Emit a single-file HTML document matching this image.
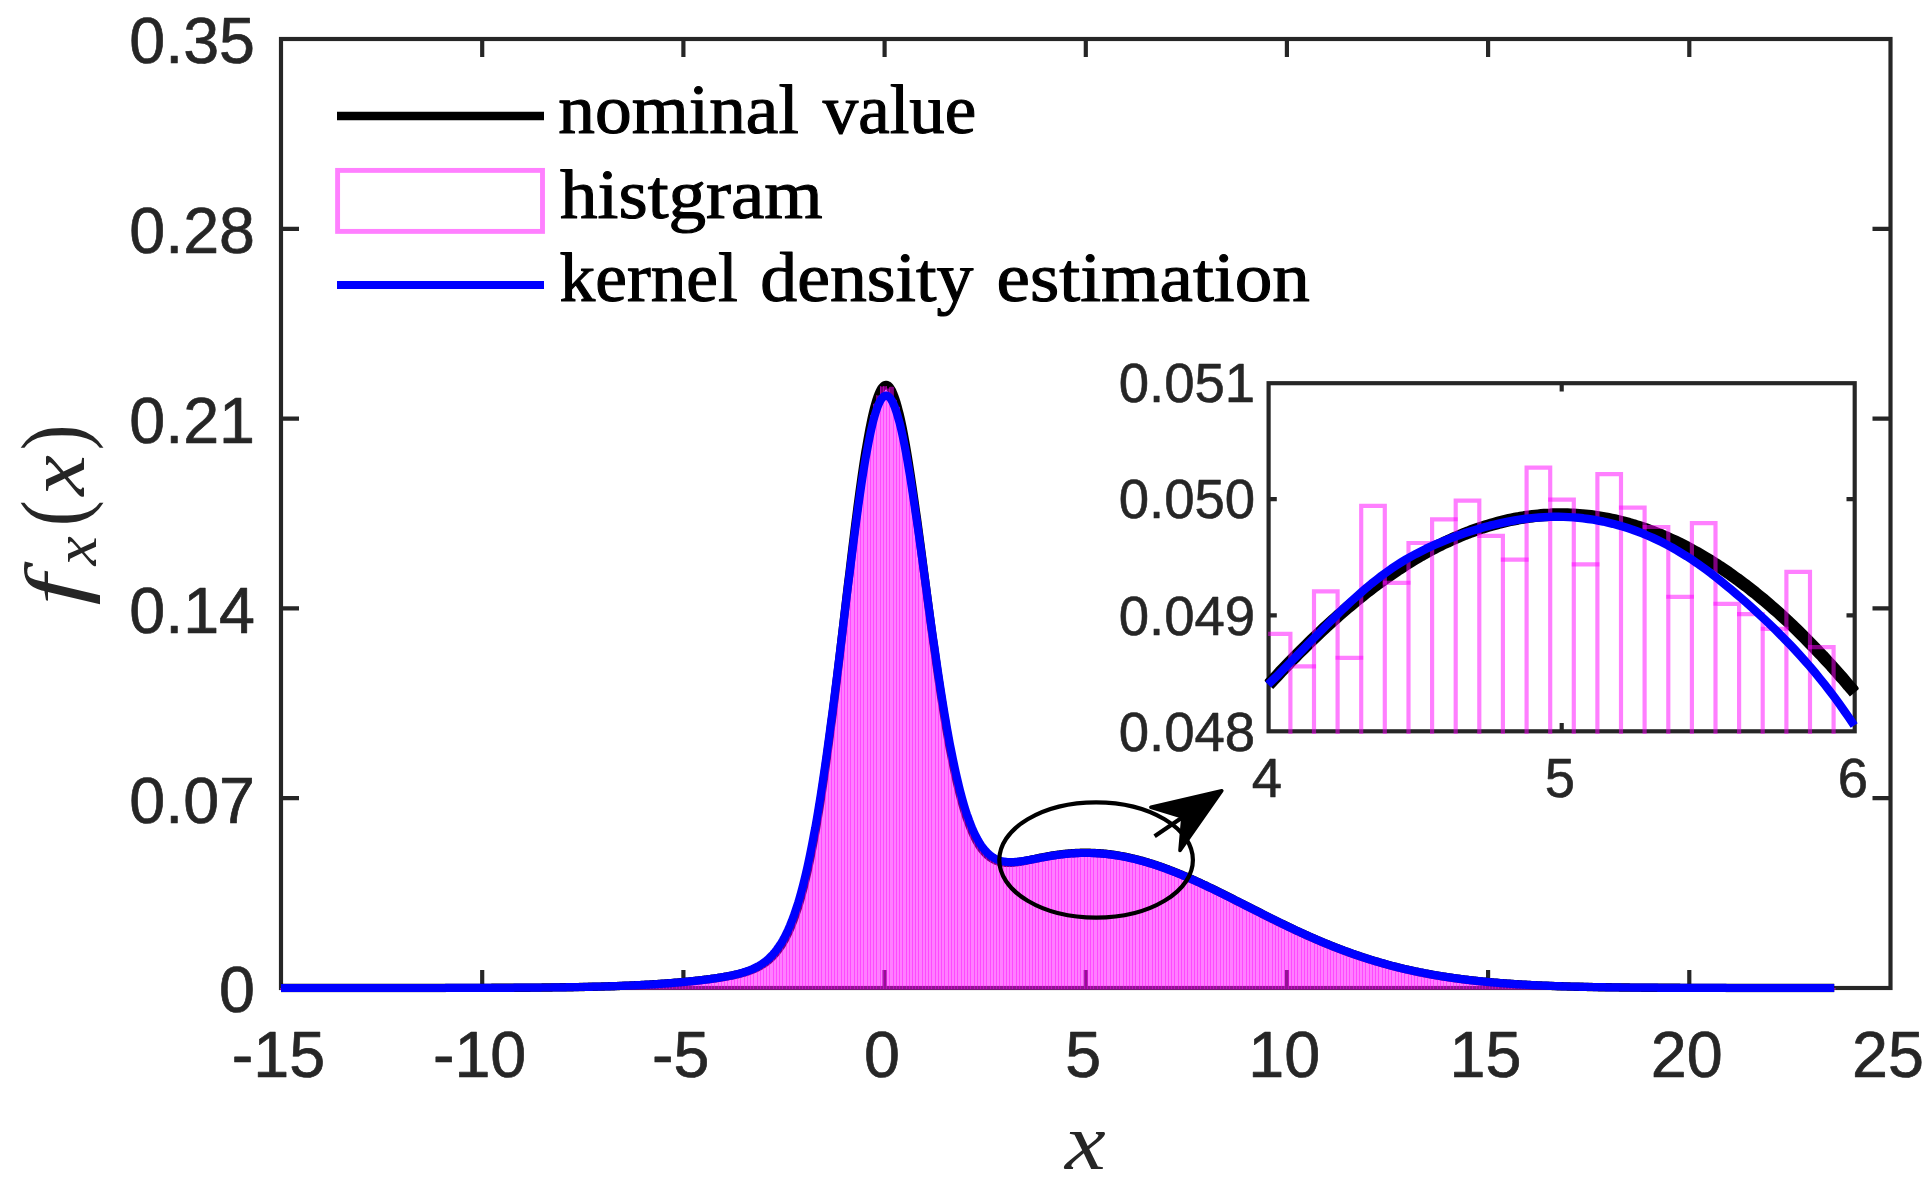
<!DOCTYPE html>
<html lang="en">
<head>
<meta charset="utf-8">
<title>Probability density: nominal value, histgram, kernel density estimation</title>
<style>
html,body{margin:0;padding:0;background:#fff;}
body{width:1932px;height:1186px;overflow:hidden;}
svg{display:block;}
</style>
</head>
<body>
<svg width="1932" height="1186" viewBox="0 0 1932 1186">
<defs>
<clipPath id="cm"><rect x="280.0" y="39.0" width="1610.5" height="953.5"/></clipPath>
<clipPath id="ci"><rect x="1264.6" y="383.2" width="594.1000000000001" height="349.59999999999997"/></clipPath>
<clipPath id="cih"><rect x="1268.1" y="383.2" width="587.1000000000001" height="350.9"/></clipPath>
</defs>
<rect width="1932" height="1186" fill="#fff"/>
<g stroke="#262626" stroke-width="4.17" fill="none" stroke-linecap="butt">
<rect x="281.0" y="39.0" width="1609.5" height="949.0"/>
<path d="M482.2,988.0 v-18.0 M482.2,39.0 v18.0 M683.4,988.0 v-18.0 M683.4,39.0 v18.0 M884.6,988.0 v-18.0 M884.6,39.0 v18.0 M1085.8,988.0 v-18.0 M1085.8,39.0 v18.0 M1286.9,988.0 v-18.0 M1286.9,39.0 v18.0 M1488.1,988.0 v-18.0 M1488.1,39.0 v18.0 M1689.3,988.0 v-18.0 M1689.3,39.0 v18.0 M281.0,798.2 h18.0 M1890.5,798.2 h-18.0 M281.0,608.4 h18.0 M1890.5,608.4 h-18.0 M281.0,418.6 h18.0 M1890.5,418.6 h-18.0 M281.0,228.8 h18.0 M1890.5,228.8 h-18.0"/>
</g>
<g font-family="'Liberation Sans', Arial, sans-serif" font-size="65.6" fill="#262626" stroke="#262626" stroke-width="0.7" stroke-linejoin="round">
<g text-anchor="middle">
<text x="278.4" y="1077" textLength="93.4" lengthAdjust="spacingAndGlyphs">-15</text>
<text x="479.6" y="1077" textLength="93.4" lengthAdjust="spacingAndGlyphs">-10</text>
<text x="680.8" y="1077" textLength="57.4" lengthAdjust="spacingAndGlyphs">-5</text>
<text x="882.0" y="1077" textLength="35.9" lengthAdjust="spacingAndGlyphs">0</text>
<text x="1083.2" y="1077" textLength="35.9" lengthAdjust="spacingAndGlyphs">5</text>
<text x="1284.3" y="1077" textLength="71.9" lengthAdjust="spacingAndGlyphs">10</text>
<text x="1485.5" y="1077" textLength="71.9" lengthAdjust="spacingAndGlyphs">15</text>
<text x="1686.7" y="1077" textLength="71.9" lengthAdjust="spacingAndGlyphs">20</text>
<text x="1887.9" y="1077" textLength="71.9" lengthAdjust="spacingAndGlyphs">25</text>
</g>
<g text-anchor="end">
<text x="255.0" y="1012.4" textLength="35.9" lengthAdjust="spacingAndGlyphs">0</text>
<text x="255.0" y="822.6" textLength="125.7" lengthAdjust="spacingAndGlyphs">0.07</text>
<text x="255.0" y="632.8" textLength="125.7" lengthAdjust="spacingAndGlyphs">0.14</text>
<text x="255.0" y="443.0" textLength="125.7" lengthAdjust="spacingAndGlyphs">0.21</text>
<text x="255.0" y="253.2" textLength="125.7" lengthAdjust="spacingAndGlyphs">0.28</text>
<text x="255.0" y="63.4" textLength="125.7" lengthAdjust="spacingAndGlyphs">0.35</text>
</g>
</g>
<g clip-path="url(#cm)" fill="none" stroke-linejoin="round">
<path d="M281.0,988.0 L282.0,988.0 L283.0,988.0 L284.0,988.0 L285.0,988.0 L286.0,988.0 L287.0,988.0 L288.0,988.0 L289.0,988.0 L290.1,988.0 L291.1,988.0 L292.1,988.0 L293.1,988.0 L294.1,988.0 L295.1,988.0 L296.1,988.0 L297.1,988.0 L298.1,988.0 L299.1,988.0 L300.1,988.0 L301.1,988.0 L302.1,988.0 L303.1,988.0 L304.1,988.0 L305.1,988.0 L306.1,988.0 L307.2,988.0 L308.2,988.0 L309.2,988.0 L310.2,988.0 L311.2,988.0 L312.2,988.0 L313.2,988.0 L314.2,988.0 L315.2,988.0 L316.2,988.0 L317.2,988.0 L318.2,988.0 L319.2,988.0 L320.2,988.0 L321.2,988.0 L322.2,988.0 L323.2,988.0 L324.3,988.0 L325.3,988.0 L326.3,988.0 L327.3,988.0 L328.3,988.0 L329.3,988.0 L330.3,988.0 L331.3,988.0 L332.3,988.0 L333.3,988.0 L334.3,988.0 L335.3,988.0 L336.3,988.0 L337.3,988.0 L338.3,988.0 L339.3,988.0 L340.4,988.0 L341.4,988.0 L342.4,988.0 L343.4,988.0 L344.4,988.0 L345.4,988.0 L346.4,988.0 L347.4,988.0 L348.4,988.0 L349.4,988.0 L350.4,988.0 L351.4,988.0 L352.4,988.0 L353.4,988.0 L354.4,988.0 L355.4,988.0 L356.4,988.0 L357.5,988.0 L358.5,988.0 L359.5,988.0 L360.5,988.0 L361.5,988.0 L362.5,988.0 L363.5,988.0 L364.5,988.0 L365.5,988.0 L366.5,988.0 L367.5,988.0 L368.5,988.0 L369.5,988.0 L370.5,988.0 L371.5,988.0 L372.5,988.0 L373.5,988.0 L374.6,988.0 L375.6,988.0 L376.6,988.0 L377.6,988.0 L378.6,988.0 L379.6,988.0 L380.6,988.0 L381.6,988.0 L382.6,988.0 L383.6,988.0 L384.6,988.0 L385.6,988.0 L386.6,988.0 L387.6,988.0 L388.6,988.0 L389.6,988.0 L390.6,988.0 L391.7,988.0 L392.7,988.0 L393.7,988.0 L394.7,988.0 L395.7,988.0 L396.7,988.0 L397.7,988.0 L398.7,988.0 L399.7,988.0 L400.7,988.0 L401.7,988.0 L402.7,988.0 L403.7,988.0 L404.7,988.0 L405.7,988.0 L406.7,988.0 L407.7,988.0 L408.8,988.0 L409.8,988.0 L410.8,988.0 L411.8,988.0 L412.8,988.0 L413.8,988.0 L414.8,988.0 L415.8,988.0 L416.8,988.0 L417.8,988.0 L418.8,988.0 L419.8,988.0 L420.8,988.0 L421.8,988.0 L422.8,988.0 L423.8,988.0 L424.8,988.0 L425.9,988.0 L426.9,988.0 L427.9,988.0 L428.9,988.0 L429.9,988.0 L430.9,988.0 L431.9,988.0 L432.9,988.0 L433.9,988.0 L434.9,988.0 L435.9,988.0 L436.9,988.0 L437.9,988.0 L438.9,988.0 L439.9,988.0 L440.9,988.0 L442.0,988.0 L443.0,988.0 L444.0,988.0 L445.0,988.0 L446.0,987.9 L447.0,987.9 L448.0,987.9 L449.0,987.9 L450.0,987.9 L451.0,987.9 L452.0,987.9 L453.0,987.9 L454.0,987.9 L455.0,987.9 L456.0,987.9 L457.0,987.9 L458.0,987.9 L459.1,987.9 L460.1,987.9 L461.1,987.9 L462.1,987.9 L463.1,987.9 L464.1,987.9 L465.1,987.9 L466.1,987.9 L467.1,987.9 L468.1,987.9 L469.1,987.9 L470.1,987.9 L471.1,987.9 L472.1,987.9 L473.1,987.9 L474.1,987.9 L475.1,987.9 L476.2,987.9 L477.2,987.9 L478.2,987.9 L479.2,987.9 L480.2,987.9 L481.2,987.9 L482.2,987.9 L483.2,987.9 L484.2,987.9 L485.2,987.9 L486.2,987.9 L487.2,987.9 L488.2,987.9 L489.2,987.9 L490.2,987.9 L491.2,987.9 L492.2,987.8 L493.3,987.8 L494.3,987.8 L495.3,987.8 L496.3,987.8 L497.3,987.8 L498.3,987.8 L499.3,987.8 L500.3,987.8 L501.3,987.8 L502.3,987.8 L503.3,987.8 L504.3,987.8 L505.3,987.8 L506.3,987.8 L507.3,987.8 L508.3,987.8 L509.3,987.8 L510.4,987.8 L511.4,987.8 L512.4,987.8 L513.4,987.8 L514.4,987.8 L515.4,987.7 L516.4,987.7 L517.4,987.7 L518.4,987.7 L519.4,987.7 L520.4,987.7 L521.4,987.7 L522.4,987.7 L523.4,987.7 L524.4,987.7 L525.4,987.7 L526.4,987.7 L527.5,987.7 L528.5,987.7 L529.5,987.7 L530.5,987.6 L531.5,987.6 L532.5,987.6 L533.5,987.6 L534.5,987.6 L535.5,987.6 L536.5,987.6 L537.5,987.6 L538.5,987.6 L539.5,987.6 L540.5,987.6 L541.5,987.6 L542.5,987.5 L543.5,987.5 L544.6,987.5 L545.6,987.5 L546.6,987.5 L547.6,987.5 L548.6,987.5 L549.6,987.5 L550.6,987.5 L551.6,987.5 L552.6,987.4 L553.6,987.4 L554.6,987.4 L555.6,987.4 L556.6,987.4 L557.6,987.4 L558.6,987.4 L559.6,987.4 L560.7,987.3 L561.7,987.3 L562.7,987.3 L563.7,987.3 L564.7,987.3 L565.7,987.3 L566.7,987.3 L567.7,987.2 L568.7,987.2 L569.7,987.2 L570.7,987.2 L571.7,987.2 L572.7,987.2 L573.7,987.1 L574.7,987.1 L575.7,987.1 L576.7,987.1 L577.8,987.1 L578.8,987.1 L579.8,987.0 L580.8,987.0 L581.8,987.0 L582.8,987.0 L583.8,987.0 L584.8,986.9 L585.8,986.9 L586.8,986.9 L587.8,986.9 L588.8,986.8 L589.8,986.8 L590.8,986.8 L591.8,986.8 L592.8,986.8 L593.8,986.7 L594.9,986.7 L595.9,986.7 L596.9,986.7 L597.9,986.6 L598.9,986.6 L599.9,986.6 L600.9,986.6 L601.9,986.5 L602.9,986.5 L603.9,986.5 L604.9,986.4 L605.9,986.4 L606.9,986.4 L607.9,986.4 L608.9,986.3 L609.9,986.3 L610.9,986.3 L612.0,986.2 L613.0,986.2 L614.0,986.2 L615.0,986.1 L616.0,986.1 L617.0,986.1 L618.0,986.0 L619.0,986.0 L620.0,985.9 L621.0,985.9 L622.0,985.9 L623.0,985.8 L624.0,985.8 L625.0,985.8 L626.0,985.7 L627.0,985.7 L628.0,985.6 L629.1,985.6 L630.1,985.5 L631.1,985.5 L632.1,985.5 L633.1,985.4 L634.1,985.4 L635.1,985.3 L636.1,985.3 L637.1,985.2 L638.1,985.2 L639.1,985.1 L640.1,985.1 L641.1,985.0 L642.1,985.0 L643.1,984.9 L644.1,984.9 L645.1,984.8 L646.2,984.8 L647.2,984.7 L648.2,984.6 L649.2,984.6 L650.2,984.5 L651.2,984.5 L652.2,984.4 L653.2,984.3 L654.2,984.3 L655.2,984.2 L656.2,984.2 L657.2,984.1 L658.2,984.0 L659.2,984.0 L660.2,983.9 L661.2,983.8 L662.3,983.8 L663.3,983.7 L664.3,983.6 L665.3,983.5 L666.3,983.5 L667.3,983.4 L668.3,983.3 L669.3,983.2 L670.3,983.2 L671.3,983.1 L672.3,983.0 L673.3,982.9 L674.3,982.8 L675.3,982.8 L676.3,982.7 L677.3,982.6 L678.3,982.5 L679.4,982.4 L680.4,982.3 L681.4,982.2 L682.4,982.1 L683.4,982.1 L684.4,982.0 L685.4,981.9 L686.4,981.8 L687.4,981.7 L688.4,981.6 L689.4,981.5 L690.4,981.4 L691.4,981.3 L692.4,981.2 L693.4,981.1 L694.4,981.0 L695.4,980.8 L696.5,980.7 L697.5,980.6 L698.5,980.5 L699.5,980.4 L700.5,980.3 L701.5,980.2 L702.5,980.0 L703.5,979.9 L704.5,979.8 L705.5,979.7 L706.5,979.5 L707.5,979.4 L708.5,979.3 L709.5,979.2 L710.5,979.0 L711.5,978.9 L712.5,978.7 L713.6,978.6 L714.6,978.5 L715.6,978.3 L716.6,978.2 L717.6,978.0 L718.6,977.9 L719.6,977.7 L720.6,977.6 L721.6,977.4 L722.6,977.2 L723.6,977.1 L724.6,976.9 L725.6,976.7 L726.6,976.5 L727.6,976.4 L728.6,976.2 L729.6,976.0 L730.7,975.8 L731.7,975.6 L732.7,975.4 L733.7,975.2 L734.7,974.9 L735.7,974.7 L736.7,974.5 L737.7,974.3 L738.7,974.0 L739.7,973.8 L740.7,973.5 L741.7,973.2 L742.7,973.0 L743.7,972.7 L744.7,972.4 L745.7,972.1 L746.7,971.8 L747.8,971.4 L748.8,971.1 L749.8,970.7 L750.8,970.3 L751.8,970.0 L752.8,969.6 L753.8,969.1 L754.8,968.7 L755.8,968.2 L756.8,967.7 L757.8,967.2 L758.8,966.7 L759.8,966.2 L760.8,965.6 L761.8,965.0 L762.8,964.4 L763.8,963.7 L764.9,963.0 L765.9,962.3 L766.9,961.5 L767.9,960.7 L768.9,959.9 L769.9,959.0 L770.9,958.0 L771.9,957.1 L772.9,956.0 L773.9,955.0 L774.9,953.9 L775.9,952.7 L776.9,951.4 L777.9,950.1 L778.9,948.8 L779.9,947.3 L781.0,945.9 L782.0,944.3 L783.0,942.6 L784.0,940.9 L785.0,939.1 L786.0,937.2 L787.0,935.3 L788.0,933.2 L789.0,931.1 L790.0,928.8 L791.0,926.5 L792.0,924.0 L793.0,921.5 L794.0,918.8 L795.0,916.0 L796.0,913.1 L797.0,910.1 L798.1,907.0 L799.1,903.8 L800.1,900.4 L801.1,896.9 L802.1,893.2 L803.1,889.5 L804.1,885.6 L805.1,881.5 L806.1,877.3 L807.1,873.0 L808.1,868.5 L809.1,863.9 L810.1,859.1 L811.1,854.2 L812.1,849.1 L813.1,843.9 L814.1,838.5 L815.2,832.9 L816.2,827.2 L817.2,821.4 L818.2,815.4 L819.2,809.3 L820.2,803.0 L821.2,796.5 L822.2,789.9 L823.2,783.2 L824.2,776.3 L825.2,769.3 L826.2,762.1 L827.2,754.8 L828.2,747.4 L829.2,739.9 L830.2,732.2 L831.2,724.4 L832.3,716.6 L833.3,708.6 L834.3,700.5 L835.3,692.3 L836.3,684.1 L837.3,675.7 L838.3,667.3 L839.3,658.9 L840.3,650.4 L841.3,641.8 L842.3,633.3 L843.3,624.7 L844.3,616.1 L845.3,607.4 L846.3,598.8 L847.3,590.3 L848.3,581.7 L849.4,573.2 L850.4,564.7 L851.4,556.3 L852.4,548.0 L853.4,539.8 L854.4,531.6 L855.4,523.6 L856.4,515.7 L857.4,507.9 L858.4,500.3 L859.4,492.8 L860.4,485.5 L861.4,478.4 L862.4,471.4 L863.4,464.7 L864.4,458.2 L865.4,451.9 L866.5,445.8 L867.5,440.0 L868.5,434.4 L869.5,429.1 L870.5,424.0 L871.5,419.2 L872.5,414.7 L873.5,410.5 L874.5,406.6 L875.5,403.1 L876.5,399.8 L877.5,396.8 L878.5,394.2 L879.5,391.9 L880.5,389.9 L881.5,388.2 L882.6,386.9 L883.6,385.9 L884.6,385.2 L885.6,384.9 L886.6,384.9 L887.6,385.3 L888.6,386.0 L889.6,387.0 L890.6,388.4 L891.6,390.0 L892.6,392.0 L893.6,394.4 L894.6,397.0 L895.6,399.9 L896.6,403.1 L897.6,406.7 L898.6,410.5 L899.7,414.6 L900.7,418.9 L901.7,423.6 L902.7,428.4 L903.7,433.5 L904.7,438.9 L905.7,444.5 L906.7,450.2 L907.7,456.2 L908.7,462.4 L909.7,468.8 L910.7,475.3 L911.7,482.0 L912.7,488.8 L913.7,495.8 L914.7,502.9 L915.7,510.0 L916.8,517.3 L917.8,524.7 L918.8,532.2 L919.8,539.7 L920.8,547.3 L921.8,554.9 L922.8,562.6 L923.8,570.3 L924.8,577.9 L925.8,585.6 L926.8,593.3 L927.8,601.0 L928.8,608.6 L929.8,616.2 L930.8,623.7 L931.8,631.2 L932.8,638.6 L933.9,646.0 L934.9,653.3 L935.9,660.4 L936.9,667.5 L937.9,674.5 L938.9,681.4 L939.9,688.2 L940.9,694.8 L941.9,701.4 L942.9,707.8 L943.9,714.1 L944.9,720.2 L945.9,726.2 L946.9,732.1 L947.9,737.8 L948.9,743.4 L949.9,748.8 L951.0,754.1 L952.0,759.3 L953.0,764.3 L954.0,769.1 L955.0,773.8 L956.0,778.4 L957.0,782.8 L958.0,787.0 L959.0,791.1 L960.0,795.1 L961.0,798.9 L962.0,802.6 L963.0,806.1 L964.0,809.5 L965.0,812.7 L966.0,815.9 L967.0,818.8 L968.1,821.7 L969.1,824.4 L970.1,827.0 L971.1,829.5 L972.1,831.8 L973.1,834.1 L974.1,836.2 L975.1,838.2 L976.1,840.1 L977.1,841.9 L978.1,843.6 L979.1,845.2 L980.1,846.8 L981.1,848.2 L982.1,849.5 L983.1,850.8 L984.2,851.9 L985.2,853.0 L986.2,854.0 L987.2,855.0 L988.2,855.8 L989.2,856.6 L990.2,857.4 L991.2,858.1 L992.2,858.7 L993.2,859.3 L994.2,859.8 L995.2,860.2 L996.2,860.7 L997.2,861.0 L998.2,861.4 L999.2,861.7 L1000.2,861.9 L1001.3,862.1 L1002.3,862.3 L1003.3,862.5 L1004.3,862.6 L1005.3,862.7 L1006.3,862.7 L1007.3,862.8 L1008.3,862.8 L1009.3,862.8 L1010.3,862.8 L1011.3,862.7 L1012.3,862.7 L1013.3,862.6 L1014.3,862.5 L1015.3,862.4 L1016.3,862.3 L1017.3,862.1 L1018.4,862.0 L1019.4,861.8 L1020.4,861.7 L1021.4,861.5 L1022.4,861.3 L1023.4,861.2 L1024.4,861.0 L1025.4,860.8 L1026.4,860.6 L1027.4,860.4 L1028.4,860.2 L1029.4,860.0 L1030.4,859.8 L1031.4,859.6 L1032.4,859.4 L1033.4,859.2 L1034.4,859.0 L1035.5,858.8 L1036.5,858.5 L1037.5,858.3 L1038.5,858.1 L1039.5,857.9 L1040.5,857.7 L1041.5,857.5 L1042.5,857.3 L1043.5,857.1 L1044.5,857.0 L1045.5,856.8 L1046.5,856.6 L1047.5,856.4 L1048.5,856.2 L1049.5,856.0 L1050.5,855.9 L1051.5,855.7 L1052.6,855.5 L1053.6,855.4 L1054.6,855.2 L1055.6,855.1 L1056.6,854.9 L1057.6,854.8 L1058.6,854.7 L1059.6,854.5 L1060.6,854.4 L1061.6,854.3 L1062.6,854.1 L1063.6,854.0 L1064.6,853.9 L1065.6,853.8 L1066.6,853.7 L1067.6,853.6 L1068.6,853.5 L1069.7,853.4 L1070.7,853.4 L1071.7,853.3 L1072.7,853.2 L1073.7,853.2 L1074.7,853.1 L1075.7,853.0 L1076.7,853.0 L1077.7,853.0 L1078.7,852.9 L1079.7,852.9 L1080.7,852.8 L1081.7,852.8 L1082.7,852.8 L1083.7,852.8 L1084.7,852.8 L1085.8,852.8 L1086.8,852.8 L1087.8,852.8 L1088.8,852.8 L1089.8,852.8 L1090.8,852.9 L1091.8,852.9 L1092.8,852.9 L1093.8,853.0 L1094.8,853.0 L1095.8,853.1 L1096.8,853.1 L1097.8,853.2 L1098.8,853.2 L1099.8,853.3 L1100.8,853.4 L1101.8,853.5 L1102.9,853.5 L1103.9,853.6 L1104.9,853.7 L1105.9,853.8 L1106.9,853.9 L1107.9,854.1 L1108.9,854.2 L1109.9,854.3 L1110.9,854.4 L1111.9,854.6 L1112.9,854.7 L1113.9,854.8 L1114.9,855.0 L1115.9,855.1 L1116.9,855.3 L1117.9,855.5 L1118.9,855.6 L1120.0,855.8 L1121.0,856.0 L1122.0,856.2 L1123.0,856.4 L1124.0,856.5 L1125.0,856.7 L1126.0,856.9 L1127.0,857.2 L1128.0,857.4 L1129.0,857.6 L1130.0,857.8 L1131.0,858.0 L1132.0,858.3 L1133.0,858.5 L1134.0,858.7 L1135.0,859.0 L1136.0,859.2 L1137.1,859.5 L1138.1,859.7 L1139.1,860.0 L1140.1,860.3 L1141.1,860.5 L1142.1,860.8 L1143.1,861.1 L1144.1,861.4 L1145.1,861.7 L1146.1,862.0 L1147.1,862.3 L1148.1,862.6 L1149.1,862.9 L1150.1,863.2 L1151.1,863.5 L1152.1,863.8 L1153.1,864.1 L1154.2,864.5 L1155.2,864.8 L1156.2,865.1 L1157.2,865.5 L1158.2,865.8 L1159.2,866.2 L1160.2,866.5 L1161.2,866.9 L1162.2,867.2 L1163.2,867.6 L1164.2,867.9 L1165.2,868.3 L1166.2,868.7 L1167.2,869.0 L1168.2,869.4 L1169.2,869.8 L1170.2,870.2 L1171.3,870.6 L1172.3,871.0 L1173.3,871.4 L1174.3,871.8 L1175.3,872.2 L1176.3,872.6 L1177.3,873.0 L1178.3,873.4 L1179.3,873.8 L1180.3,874.2 L1181.3,874.6 L1182.3,875.1 L1183.3,875.5 L1184.3,875.9 L1185.3,876.3 L1186.3,876.8 L1187.3,877.2 L1188.4,877.7 L1189.4,878.1 L1190.4,878.5 L1191.4,879.0 L1192.4,879.4 L1193.4,879.9 L1194.4,880.3 L1195.4,880.8 L1196.4,881.2 L1197.4,881.7 L1198.4,882.2 L1199.4,882.6 L1200.4,883.1 L1201.4,883.6 L1202.4,884.0 L1203.4,884.5 L1204.5,885.0 L1205.5,885.5 L1206.5,885.9 L1207.5,886.4 L1208.5,886.9 L1209.5,887.4 L1210.5,887.9 L1211.5,888.3 L1212.5,888.8 L1213.5,889.3 L1214.5,889.8 L1215.5,890.3 L1216.5,890.8 L1217.5,891.3 L1218.5,891.8 L1219.5,892.3 L1220.5,892.8 L1221.6,893.3 L1222.6,893.8 L1223.6,894.3 L1224.6,894.8 L1225.6,895.3 L1226.6,895.8 L1227.6,896.3 L1228.6,896.8 L1229.6,897.3 L1230.6,897.8 L1231.6,898.3 L1232.6,898.8 L1233.6,899.3 L1234.6,899.9 L1235.6,900.4 L1236.6,900.9 L1237.6,901.4 L1238.7,901.9 L1239.7,902.4 L1240.7,902.9 L1241.7,903.4 L1242.7,903.9 L1243.7,904.5 L1244.7,905.0 L1245.7,905.5 L1246.7,906.0 L1247.7,906.5 L1248.7,907.0 L1249.7,907.5 L1250.7,908.0 L1251.7,908.6 L1252.7,909.1 L1253.7,909.6 L1254.7,910.1 L1255.8,910.6 L1256.8,911.1 L1257.8,911.6 L1258.8,912.1 L1259.8,912.6 L1260.8,913.1 L1261.8,913.7 L1262.8,914.2 L1263.8,914.7 L1264.8,915.2 L1265.8,915.7 L1266.8,916.2 L1267.8,916.7 L1268.8,917.2 L1269.8,917.7 L1270.8,918.2 L1271.8,918.7 L1272.9,919.2 L1273.9,919.7 L1274.9,920.2 L1275.9,920.7 L1276.9,921.2 L1277.9,921.7 L1278.9,922.2 L1279.9,922.7 L1280.9,923.2 L1281.9,923.7 L1282.9,924.1 L1283.9,924.6 L1284.9,925.1 L1285.9,925.6 L1286.9,926.1 L1287.9,926.6 L1288.9,927.1 L1290.0,927.5 L1291.0,928.0 L1292.0,928.5 L1293.0,929.0 L1294.0,929.4 L1295.0,929.9 L1296.0,930.4 L1297.0,930.9 L1298.0,931.3 L1299.0,931.8 L1300.0,932.3 L1301.0,932.7 L1302.0,933.2 L1303.0,933.6 L1304.0,934.1 L1305.0,934.6 L1306.1,935.0 L1307.1,935.5 L1308.1,935.9 L1309.1,936.4 L1310.1,936.8 L1311.1,937.3 L1312.1,937.7 L1313.1,938.1 L1314.1,938.6 L1315.1,939.0 L1316.1,939.4 L1317.1,939.9 L1318.1,940.3 L1319.1,940.7 L1320.1,941.2 L1321.1,941.6 L1322.1,942.0 L1323.2,942.4 L1324.2,942.9 L1325.2,943.3 L1326.2,943.7 L1327.2,944.1 L1328.2,944.5 L1329.2,944.9 L1330.2,945.3 L1331.2,945.7 L1332.2,946.1 L1333.2,946.5 L1334.2,946.9 L1335.2,947.3 L1336.2,947.7 L1337.2,948.1 L1338.2,948.5 L1339.2,948.9 L1340.3,949.3 L1341.3,949.6 L1342.3,950.0 L1343.3,950.4 L1344.3,950.8 L1345.3,951.2 L1346.3,951.5 L1347.3,951.9 L1348.3,952.3 L1349.3,952.6 L1350.3,953.0 L1351.3,953.3 L1352.3,953.7 L1353.3,954.0 L1354.3,954.4 L1355.3,954.8 L1356.3,955.1 L1357.4,955.4 L1358.4,955.8 L1359.4,956.1 L1360.4,956.5 L1361.4,956.8 L1362.4,957.1 L1363.4,957.5 L1364.4,957.8 L1365.4,958.1 L1366.4,958.4 L1367.4,958.8 L1368.4,959.1 L1369.4,959.4 L1370.4,959.7 L1371.4,960.0 L1372.4,960.3 L1373.4,960.6 L1374.5,960.9 L1375.5,961.2 L1376.5,961.5 L1377.5,961.8 L1378.5,962.1 L1379.5,962.4 L1380.5,962.7 L1381.5,963.0 L1382.5,963.3 L1383.5,963.6 L1384.5,963.9 L1385.5,964.1 L1386.5,964.4 L1387.5,964.7 L1388.5,965.0 L1389.5,965.2 L1390.5,965.5 L1391.6,965.8 L1392.6,966.0 L1393.6,966.3 L1394.6,966.5 L1395.6,966.8 L1396.6,967.1 L1397.6,967.3 L1398.6,967.6 L1399.6,967.8 L1400.6,968.0 L1401.6,968.3 L1402.6,968.5 L1403.6,968.8 L1404.6,969.0 L1405.6,969.2 L1406.6,969.5 L1407.6,969.7 L1408.7,969.9 L1409.7,970.2 L1410.7,970.4 L1411.7,970.6 L1412.7,970.8 L1413.7,971.0 L1414.7,971.3 L1415.7,971.5 L1416.7,971.7 L1417.7,971.9 L1418.7,972.1 L1419.7,972.3 L1420.7,972.5 L1421.7,972.7 L1422.7,972.9 L1423.7,973.1 L1424.8,973.3 L1425.8,973.5 L1426.8,973.7 L1427.8,973.9 L1428.8,974.0 L1429.8,974.2 L1430.8,974.4 L1431.8,974.6 L1432.8,974.8 L1433.8,975.0 L1434.8,975.1 L1435.8,975.3 L1436.8,975.5 L1437.8,975.6 L1438.8,975.8 L1439.8,976.0 L1440.8,976.1 L1441.9,976.3 L1442.9,976.5 L1443.9,976.6 L1444.9,976.8 L1445.9,976.9 L1446.9,977.1 L1447.9,977.2 L1448.9,977.4 L1449.9,977.5 L1450.9,977.7 L1451.9,977.8 L1452.9,978.0 L1453.9,978.1 L1454.9,978.3 L1455.9,978.4 L1456.9,978.5 L1457.9,978.7 L1459.0,978.8 L1460.0,978.9 L1461.0,979.1 L1462.0,979.2 L1463.0,979.3 L1464.0,979.5 L1465.0,979.6 L1466.0,979.7 L1467.0,979.8 L1468.0,979.9 L1469.0,980.1 L1470.0,980.2 L1471.0,980.3 L1472.0,980.4 L1473.0,980.5 L1474.0,980.6 L1475.0,980.7 L1476.1,980.9 L1477.1,981.0 L1478.1,981.1 L1479.1,981.2 L1480.1,981.3 L1481.1,981.4 L1482.1,981.5 L1483.1,981.6 L1484.1,981.7 L1485.1,981.8 L1486.1,981.9 L1487.1,982.0 L1488.1,982.1 L1489.1,982.2 L1490.1,982.2 L1491.1,982.3 L1492.1,982.4 L1493.2,982.5 L1494.2,982.6 L1495.2,982.7 L1496.2,982.8 L1497.2,982.8 L1498.2,982.9 L1499.2,983.0 L1500.2,983.1 L1501.2,983.2 L1502.2,983.2 L1503.2,983.3 L1504.2,983.4 L1505.2,983.5 L1506.2,983.5 L1507.2,983.6 L1508.2,983.7 L1509.2,983.8 L1510.3,983.8 L1511.3,983.9 L1512.3,984.0 L1513.3,984.0 L1514.3,984.1 L1515.3,984.2 L1516.3,984.2 L1517.3,984.3 L1518.3,984.3 L1519.3,984.4 L1520.3,984.5 L1521.3,984.5 L1522.3,984.6 L1523.3,984.6 L1524.3,984.7 L1525.3,984.8 L1526.4,984.8 L1527.4,984.9 L1528.4,984.9 L1529.4,985.0 L1530.4,985.0 L1531.4,985.1 L1532.4,985.1 L1533.4,985.2 L1534.4,985.2 L1535.4,985.3 L1536.4,985.3 L1537.4,985.4 L1538.4,985.4 L1539.4,985.5 L1540.4,985.5 L1541.4,985.5 L1542.4,985.6 L1543.5,985.6 L1544.5,985.7 L1545.5,985.7 L1546.5,985.8 L1547.5,985.8 L1548.5,985.8 L1549.5,985.9 L1550.5,985.9 L1551.5,985.9 L1552.5,986.0 L1553.5,986.0 L1554.5,986.1 L1555.5,986.1 L1556.5,986.1 L1557.5,986.2 L1558.5,986.2 L1559.5,986.2 L1560.6,986.3 L1561.6,986.3 L1562.6,986.3 L1563.6,986.4 L1564.6,986.4 L1565.6,986.4 L1566.6,986.4 L1567.6,986.5 L1568.6,986.5 L1569.6,986.5 L1570.6,986.6 L1571.6,986.6 L1572.6,986.6 L1573.6,986.6 L1574.6,986.7 L1575.6,986.7 L1576.6,986.7 L1577.7,986.7 L1578.7,986.8 L1579.7,986.8 L1580.7,986.8 L1581.7,986.8 L1582.7,986.8 L1583.7,986.9 L1584.7,986.9 L1585.7,986.9 L1586.7,986.9 L1587.7,987.0 L1588.7,987.0 L1589.7,987.0 L1590.7,987.0 L1591.7,987.0 L1592.7,987.1 L1593.7,987.1 L1594.8,987.1 L1595.8,987.1 L1596.8,987.1 L1597.8,987.1 L1598.8,987.2 L1599.8,987.2 L1600.8,987.2 L1601.8,987.2 L1602.8,987.2 L1603.8,987.2 L1604.8,987.3 L1605.8,987.3 L1606.8,987.3 L1607.8,987.3 L1608.8,987.3 L1609.8,987.3 L1610.8,987.3 L1611.9,987.4 L1612.9,987.4 L1613.9,987.4 L1614.9,987.4 L1615.9,987.4 L1616.9,987.4 L1617.9,987.4 L1618.9,987.4 L1619.9,987.5 L1620.9,987.5 L1621.9,987.5 L1622.9,987.5 L1623.9,987.5 L1624.9,987.5 L1625.9,987.5 L1626.9,987.5 L1628.0,987.5 L1629.0,987.5 L1630.0,987.6 L1631.0,987.6 L1632.0,987.6 L1633.0,987.6 L1634.0,987.6 L1635.0,987.6 L1636.0,987.6 L1637.0,987.6 L1638.0,987.6 L1639.0,987.6 L1640.0,987.6 L1641.0,987.6 L1642.0,987.7 L1643.0,987.7 L1644.0,987.7 L1645.1,987.7 L1646.1,987.7 L1647.1,987.7 L1648.1,987.7 L1649.1,987.7 L1650.1,987.7 L1651.1,987.7 L1652.1,987.7 L1653.1,987.7 L1654.1,987.7 L1655.1,987.7 L1656.1,987.7 L1657.1,987.8 L1658.1,987.8 L1659.1,987.8 L1660.1,987.8 L1661.1,987.8 L1662.2,987.8 L1663.2,987.8 L1664.2,987.8 L1665.2,987.8 L1666.2,987.8 L1667.2,987.8 L1668.2,987.8 L1669.2,987.8 L1670.2,987.8 L1671.2,987.8 L1672.2,987.8 L1673.2,987.8 L1674.2,987.8 L1675.2,987.8 L1676.2,987.8 L1677.2,987.8 L1678.2,987.8 L1679.3,987.8 L1680.3,987.9 L1681.3,987.9 L1682.3,987.9 L1683.3,987.9 L1684.3,987.9 L1685.3,987.9 L1686.3,987.9 L1687.3,987.9 L1688.3,987.9 L1689.3,987.9 L1690.3,987.9 L1691.3,987.9 L1692.3,987.9 L1693.3,987.9 L1694.3,987.9 L1695.3,987.9 L1696.4,987.9 L1697.4,987.9 L1698.4,987.9 L1699.4,987.9 L1700.4,987.9 L1701.4,987.9 L1702.4,987.9 L1703.4,987.9 L1704.4,987.9 L1705.4,987.9 L1706.4,987.9 L1707.4,987.9 L1708.4,987.9 L1709.4,987.9 L1710.4,987.9 L1711.4,987.9 L1712.4,987.9 L1713.5,987.9 L1714.5,987.9 L1715.5,987.9 L1716.5,987.9 L1717.5,987.9 L1718.5,987.9 L1719.5,987.9 L1720.5,987.9 L1721.5,987.9 L1722.5,987.9 L1723.5,987.9 L1724.5,987.9 L1725.5,987.9 L1726.5,988.0 L1727.5,988.0 L1728.5,988.0 L1729.5,988.0 L1730.6,988.0 L1731.6,988.0 L1732.6,988.0 L1733.6,988.0 L1734.6,988.0 L1735.6,988.0 L1736.6,988.0 L1737.6,988.0 L1738.6,988.0 L1739.6,988.0 L1740.6,988.0 L1741.6,988.0 L1742.6,988.0 L1743.6,988.0 L1744.6,988.0 L1745.6,988.0 L1746.7,988.0 L1747.7,988.0 L1748.7,988.0 L1749.7,988.0 L1750.7,988.0 L1751.7,988.0 L1752.7,988.0 L1753.7,988.0 L1754.7,988.0 L1755.7,988.0 L1756.7,988.0 L1757.7,988.0 L1758.7,988.0 L1759.7,988.0 L1760.7,988.0 L1761.7,988.0 L1762.7,988.0 L1763.8,988.0 L1764.8,988.0 L1765.8,988.0 L1766.8,988.0 L1767.8,988.0 L1768.8,988.0 L1769.8,988.0 L1770.8,988.0 L1771.8,988.0 L1772.8,988.0 L1773.8,988.0 L1774.8,988.0 L1775.8,988.0 L1776.8,988.0 L1777.8,988.0 L1778.8,988.0 L1779.8,988.0 L1780.9,988.0 L1781.9,988.0 L1782.9,988.0 L1783.9,988.0 L1784.9,988.0 L1785.9,988.0 L1786.9,988.0 L1787.9,988.0 L1788.9,988.0 L1789.9,988.0 L1790.9,988.0 L1791.9,988.0 L1792.9,988.0 L1793.9,988.0 L1794.9,988.0 L1795.9,988.0 L1796.9,988.0 L1798.0,988.0 L1799.0,988.0 L1800.0,988.0 L1801.0,988.0 L1802.0,988.0 L1803.0,988.0 L1804.0,988.0 L1805.0,988.0 L1806.0,988.0 L1807.0,988.0 L1808.0,988.0 L1809.0,988.0 L1810.0,988.0 L1811.0,988.0 L1812.0,988.0 L1813.0,988.0 L1814.0,988.0 L1815.1,988.0 L1816.1,988.0 L1817.1,988.0 L1818.1,988.0 L1819.1,988.0 L1820.1,988.0 L1821.1,988.0 L1822.1,988.0 L1823.1,988.0 L1824.1,988.0 L1825.1,988.0 L1826.1,988.0 L1827.1,988.0 L1828.1,988.0 L1829.1,988.0 L1830.1,988.0 L1831.1,988.0 L1832.2,988.0 L1833.2,988.0 L1834.2,988.0" stroke="#000" stroke-width="8.4"/>
<path d="M258.19,989.7 L258.19,988.0 L261.42,988.0 L261.42,988.0 L264.66,988.0 L264.66,988.0 L267.90,988.0 L267.90,988.0 L271.14,988.0 L271.14,988.0 L274.38,988.0 L274.38,988.0 L277.62,988.0 L277.62,988.0 L280.86,988.0 L280.86,988.0 L284.10,988.0 L284.10,988.0 L287.34,988.0 L287.34,988.0 L290.58,988.0 L290.58,988.0 L293.82,988.0 L293.82,988.0 L297.05,988.0 L297.05,988.0 L300.29,988.0 L300.29,988.0 L303.53,988.0 L303.53,988.0 L306.77,988.0 L306.77,988.0 L310.01,988.0 L310.01,988.0 L313.25,988.0 L313.25,988.0 L316.49,988.0 L316.49,988.0 L319.73,988.0 L319.73,988.0 L322.97,988.0 L322.97,988.0 L326.21,988.0 L326.21,988.0 L329.45,988.0 L329.45,988.0 L332.69,988.0 L332.69,988.0 L335.92,988.0 L335.92,988.0 L339.16,988.0 L339.16,988.0 L342.40,988.0 L342.40,988.0 L345.64,988.0 L345.64,988.0 L348.88,988.0 L348.88,988.0 L352.12,988.0 L352.12,988.0 L355.36,988.0 L355.36,988.0 L358.60,988.0 L358.60,988.0 L361.84,988.0 L361.84,988.0 L365.08,988.0 L365.08,988.0 L368.32,988.0 L368.32,988.0 L371.55,988.0 L371.55,988.0 L374.79,988.0 L374.79,988.0 L378.03,988.0 L378.03,988.0 L381.27,988.0 L381.27,988.0 L384.51,988.0 L384.51,988.0 L387.75,988.0 L387.75,988.0 L390.99,988.0 L390.99,988.0 L394.23,988.0 L394.23,988.0 L397.47,988.0 L397.47,988.0 L400.71,988.0 L400.71,988.0 L403.95,988.0 L403.95,988.0 L407.18,988.0 L407.18,988.0 L410.42,988.0 L410.42,988.0 L413.66,988.0 L413.66,988.0 L416.90,988.0 L416.90,988.0 L420.14,988.0 L420.14,988.0 L423.38,988.0 L423.38,988.0 L426.62,988.0 L426.62,988.0 L429.86,988.0 L429.86,988.0 L433.10,988.0 L433.10,988.0 L436.34,988.0 L436.34,988.0 L439.58,988.0 L439.58,988.0 L442.82,988.0 L442.82,987.9 L446.05,987.9 L446.05,987.9 L449.29,987.9 L449.29,987.9 L452.53,987.9 L452.53,987.9 L455.77,987.9 L455.77,988.0 L459.01,988.0 L459.01,987.9 L462.25,987.9 L462.25,987.9 L465.49,987.9 L465.49,987.9 L468.73,987.9 L468.73,987.9 L471.97,987.9 L471.97,987.9 L475.21,987.9 L475.21,987.9 L478.45,987.9 L478.45,987.9 L481.68,987.9 L481.68,987.9 L484.92,987.9 L484.92,987.8 L488.16,987.8 L488.16,987.9 L491.40,987.9 L491.40,987.8 L494.64,987.8 L494.64,987.8 L497.88,987.8 L497.88,987.8 L501.12,987.8 L501.12,987.8 L504.36,987.8 L504.36,987.8 L507.60,987.8 L507.60,987.8 L510.84,987.8 L510.84,987.8 L514.08,987.8 L514.08,987.8 L517.31,987.8 L517.31,987.7 L520.55,987.7 L520.55,987.7 L523.79,987.7 L523.79,987.7 L527.03,987.7 L527.03,987.7 L530.27,987.7 L530.27,987.6 L533.51,987.6 L533.51,987.6 L536.75,987.6 L536.75,987.6 L539.99,987.6 L539.99,987.5 L543.23,987.5 L543.23,987.5 L546.47,987.5 L546.47,987.5 L549.71,987.5 L549.71,987.4 L552.95,987.4 L552.95,987.4 L556.18,987.4 L556.18,987.4 L559.42,987.4 L559.42,987.3 L562.66,987.3 L562.66,987.3 L565.90,987.3 L565.90,987.2 L569.14,987.2 L569.14,987.1 L572.38,987.1 L572.38,987.1 L575.62,987.1 L575.62,987.1 L578.86,987.1 L578.86,987.0 L582.10,987.0 L582.10,987.0 L585.34,987.0 L585.34,986.9 L588.58,986.9 L588.58,986.8 L591.81,986.8 L591.81,986.8 L595.05,986.8 L595.05,986.6 L598.29,986.6 L598.29,986.6 L601.53,986.6 L601.53,986.4 L604.77,986.4 L604.77,986.4 L608.01,986.4 L608.01,986.2 L611.25,986.2 L611.25,986.2 L614.49,986.2 L614.49,986.1 L617.73,986.1 L617.73,985.9 L620.97,985.9 L620.97,985.8 L624.21,985.8 L624.21,985.7 L627.44,985.7 L627.44,985.7 L630.68,985.7 L630.68,985.4 L633.92,985.4 L633.92,985.3 L637.16,985.3 L637.16,985.2 L640.40,985.2 L640.40,985.0 L643.64,985.0 L643.64,984.6 L646.88,984.6 L646.88,984.7 L650.12,984.7 L650.12,984.5 L653.36,984.5 L653.36,984.2 L656.60,984.2 L656.60,984.0 L659.84,984.0 L659.84,983.8 L663.08,983.8 L663.08,983.5 L666.31,983.5 L666.31,983.3 L669.55,983.3 L669.55,983.1 L672.79,983.1 L672.79,982.7 L676.03,982.7 L676.03,982.5 L679.27,982.5 L679.27,982.4 L682.51,982.4 L682.51,982.0 L685.75,982.0 L685.75,981.8 L688.99,981.8 L688.99,981.3 L692.23,981.3 L692.23,981.2 L695.47,981.2 L695.47,981.0 L698.71,981.0 L698.71,980.3 L701.94,980.3 L701.94,980.1 L705.18,980.1 L705.18,979.8 L708.42,979.8 L708.42,979.0 L711.66,979.0 L711.66,978.8 L714.90,978.8 L714.90,978.1 L718.14,978.1 L718.14,977.8 L721.38,977.8 L721.38,977.4 L724.62,977.4 L724.62,976.9 L727.86,976.9 L727.86,976.1 L731.10,976.1 L731.10,975.4 L734.34,975.4 L734.34,974.8 L737.57,974.8 L737.57,974.0 L740.81,974.0 L740.81,973.4 L744.05,973.4 L744.05,972.1 L747.29,972.1 L747.29,971.5 L750.53,971.5 L750.53,969.9 L753.77,969.9 L753.77,968.2 L757.01,968.2 L757.01,966.5 L760.25,966.5 L760.25,964.5 L763.49,964.5 L763.49,963.3 L766.73,963.3 L766.73,960.1 L769.97,960.1 L769.97,957.0 L773.21,957.0 L773.21,953.6 L776.44,953.6 L776.44,950.3 L779.68,950.3 L779.68,945.2 L782.92,945.2 L782.92,939.2 L786.16,939.2 L786.16,934.3 L789.40,934.3 L789.40,926.2 L792.64,926.2 L792.64,917.6 L795.88,917.6 L795.88,909.1 L799.12,909.1 L799.12,897.7 L802.36,897.7 L802.36,886.6 L805.60,886.6 L805.60,873.0 L808.84,873.0 L808.84,858.0 L812.07,858.0 L812.07,840.8 L815.31,840.8 L815.31,822.8 L818.55,822.8 L818.55,802.3 L821.79,802.3 L821.79,782.5 L825.03,782.5 L825.03,759.1 L828.27,759.1 L828.27,734.0 L831.51,734.0 L831.51,709.1 L834.75,709.1 L834.75,684.7 L837.99,684.7 L837.99,655.6 L841.23,655.6 L841.23,629.2 L844.47,629.2 L844.47,600.6 L847.70,600.6 L847.70,573.1 L850.94,573.1 L850.94,544.9 L854.18,544.9 L854.18,520.2 L857.42,520.2 L857.42,497.9 L860.66,497.9 L860.66,474.3 L863.90,474.3 L863.90,450.4 L867.14,450.4 L867.14,433.2 L870.38,433.2 L870.38,415.3 L873.62,415.3 L873.62,403.6 L876.86,403.6 L876.86,395.4 L880.10,395.4 L880.10,386.4 L883.34,386.4 L883.34,386.2 L886.57,386.2 L886.57,388.6 L889.81,388.6 L889.81,386.8 L893.05,386.8 L893.05,399.8 L896.29,399.8 L896.29,406.8 L899.53,406.8 L899.53,419.9 L902.77,419.9 L902.77,437.1 L906.01,437.1 L906.01,458.1 L909.25,458.1 L909.25,474.9 L912.49,474.9 L912.49,500.2 L915.73,500.2 L915.73,523.4 L918.97,523.4 L918.97,546.3 L922.20,546.3 L922.20,569.6 L925.44,569.6 L925.44,594.9 L928.68,594.9 L928.68,618.8 L931.92,618.8 L931.92,644.2 L935.16,644.2 L935.16,667.1 L938.40,667.1 L938.40,690.2 L941.64,690.2 L941.64,710.3 L944.88,710.3 L944.88,729.0 L948.12,729.0 L948.12,748.0 L951.36,748.0 L951.36,763.9 L954.60,763.9 L954.60,779.9 L957.83,779.9 L957.83,793.4 L961.07,793.4 L961.07,804.9 L964.31,804.9 L964.31,815.7 L967.55,815.7 L967.55,824.3 L970.79,824.3 L970.79,832.5 L974.03,832.5 L974.03,838.0 L977.27,838.0 L977.27,845.0 L980.51,845.0 L980.51,849.7 L983.75,849.7 L983.75,853.9 L986.99,853.9 L986.99,856.2 L990.23,856.2 L990.23,858.0 L993.47,858.0 L993.47,860.7 L996.70,860.7 L996.70,861.4 L999.94,861.4 L999.94,861.7 L1003.18,861.7 L1003.18,862.7 L1006.42,862.7 L1006.42,863.1 L1009.66,863.1 L1009.66,862.1 L1012.90,862.1 L1012.90,862.4 L1016.14,862.4 L1016.14,861.8 L1019.38,861.8 L1019.38,860.8 L1022.62,860.8 L1022.62,860.3 L1025.86,860.3 L1025.86,860.6 L1029.10,860.6 L1029.10,860.1 L1032.33,860.1 L1032.33,858.9 L1035.57,858.9 L1035.57,858.5 L1038.81,858.5 L1038.81,859.0 L1042.05,859.0 L1042.05,856.3 L1045.29,856.3 L1045.29,856.5 L1048.53,856.5 L1048.53,855.4 L1051.77,855.4 L1051.77,856.2 L1055.01,856.2 L1055.01,854.1 L1058.25,854.1 L1058.25,854.9 L1061.49,854.9 L1061.49,854.2 L1064.73,854.2 L1064.73,854.7 L1067.97,854.7 L1067.97,853.6 L1071.20,853.6 L1071.20,853.4 L1074.44,853.4 L1074.44,853.2 L1077.68,853.2 L1077.68,852.6 L1080.92,852.6 L1080.92,852.8 L1084.16,852.8 L1084.16,852.1 L1087.40,852.1 L1087.40,853.1 L1090.64,853.1 L1090.64,853.6 L1093.88,853.6 L1093.88,853.0 L1097.12,853.0 L1097.12,852.8 L1100.36,852.8 L1100.36,852.6 L1103.60,852.6 L1103.60,853.2 L1106.83,853.2 L1106.83,855.3 L1110.07,855.3 L1110.07,854.3 L1113.31,854.3 L1113.31,854.0 L1116.55,854.0 L1116.55,855.5 L1119.79,855.5 L1119.79,856.4 L1123.03,856.4 L1123.03,856.5 L1126.27,856.5 L1126.27,857.7 L1129.51,857.7 L1129.51,857.6 L1132.75,857.6 L1132.75,858.8 L1135.99,858.8 L1135.99,858.7 L1139.23,858.7 L1139.23,860.2 L1142.46,860.2 L1142.46,861.9 L1145.70,861.9 L1145.70,861.9 L1148.94,861.9 L1148.94,862.7 L1152.18,862.7 L1152.18,864.7 L1155.42,864.7 L1155.42,865.7 L1158.66,865.7 L1158.66,868.0 L1161.90,868.0 L1161.90,867.1 L1165.14,867.1 L1165.14,869.2 L1168.38,869.2 L1168.38,871.4 L1171.62,871.4 L1171.62,872.5 L1174.86,872.5 L1174.86,872.8 L1178.10,872.8 L1178.10,873.5 L1181.33,873.5 L1181.33,875.4 L1184.57,875.4 L1184.57,876.4 L1187.81,876.4 L1187.81,878.8 L1191.05,878.8 L1191.05,880.4 L1194.29,880.4 L1194.29,880.5 L1197.53,880.5 L1197.53,882.2 L1200.77,882.2 L1200.77,884.0 L1204.01,884.0 L1204.01,884.8 L1207.25,884.8 L1207.25,887.6 L1210.49,887.6 L1210.49,888.9 L1213.73,888.9 L1213.73,889.6 L1216.96,889.6 L1216.96,890.8 L1220.20,890.8 L1220.20,893.4 L1223.44,893.4 L1223.44,894.1 L1226.68,894.1 L1226.68,897.0 L1229.92,897.0 L1229.92,898.1 L1233.16,898.1 L1233.16,900.0 L1236.40,900.0 L1236.40,902.4 L1239.64,902.4 L1239.64,903.1 L1242.88,903.1 L1242.88,904.4 L1246.12,904.4 L1246.12,906.6 L1249.36,906.6 L1249.36,908.2 L1252.59,908.2 L1252.59,909.1 L1255.83,909.1 L1255.83,912.1 L1259.07,912.1 L1259.07,913.9 L1262.31,913.9 L1262.31,915.1 L1265.55,915.1 L1265.55,917.0 L1268.79,917.0 L1268.79,917.3 L1272.03,917.3 L1272.03,919.4 L1275.27,919.4 L1275.27,921.6 L1278.51,921.6 L1278.51,923.1 L1281.75,923.1 L1281.75,923.0 L1284.99,923.0 L1284.99,926.2 L1288.23,926.2 L1288.23,927.8 L1291.46,927.8 L1291.46,928.9 L1294.70,928.9 L1294.70,930.3 L1297.94,930.3 L1297.94,932.0 L1301.18,932.0 L1301.18,933.9 L1304.42,933.9 L1304.42,935.5 L1307.66,935.5 L1307.66,936.2 L1310.90,936.2 L1310.90,937.9 L1314.14,937.9 L1314.14,940.0 L1317.38,940.0 L1317.38,940.2 L1320.62,940.2 L1320.62,941.8 L1323.86,941.8 L1323.86,943.5 L1327.09,943.5 L1327.09,944.8 L1330.33,944.8 L1330.33,945.9 L1333.57,945.9 L1333.57,947.6 L1336.81,947.6 L1336.81,949.1 L1340.05,949.1 L1340.05,949.7 L1343.29,949.7 L1343.29,951.5 L1346.53,951.5 L1346.53,952.1 L1349.77,952.1 L1349.77,953.9 L1353.01,953.9 L1353.01,954.5 L1356.25,954.5 L1356.25,955.7 L1359.49,955.7 L1359.49,956.1 L1362.72,956.1 L1362.72,958.1 L1365.96,958.1 L1365.96,959.3 L1369.20,959.3 L1369.20,960.0 L1372.44,960.0 L1372.44,961.2 L1375.68,961.2 L1375.68,962.0 L1378.92,962.0 L1378.92,962.6 L1382.16,962.6 L1382.16,963.4 L1385.40,963.4 L1385.40,964.1 L1388.64,964.1 L1388.64,965.6 L1391.88,965.6 L1391.88,965.6 L1395.12,965.6 L1395.12,966.6 L1398.36,966.6 L1398.36,967.9 L1401.59,967.9 L1401.59,969.3 L1404.83,969.3 L1404.83,969.4 L1408.07,969.4 L1408.07,970.1 L1411.31,970.1 L1411.31,971.4 L1414.55,971.4 L1414.55,971.5 L1417.79,971.5 L1417.79,972.3 L1421.03,972.3 L1421.03,973.1 L1424.27,973.1 L1424.27,973.4 L1427.51,973.4 L1427.51,973.9 L1430.75,973.9 L1430.75,974.8 L1433.99,974.8 L1433.99,975.2 L1437.22,975.2 L1437.22,975.9 L1440.46,975.9 L1440.46,976.5 L1443.70,976.5 L1443.70,976.8 L1446.94,976.8 L1446.94,977.2 L1450.18,977.2 L1450.18,977.9 L1453.42,977.9 L1453.42,978.7 L1456.66,978.7 L1456.66,978.6 L1459.90,978.6 L1459.90,979.4 L1463.14,979.4 L1463.14,979.5 L1466.38,979.5 L1466.38,979.6 L1469.62,979.6 L1469.62,980.3 L1472.85,980.3 L1472.85,980.9 L1476.09,980.9 L1476.09,981.3 L1479.33,981.3 L1479.33,981.2 L1482.57,981.2 L1482.57,981.7 L1485.81,981.7 L1485.81,981.9 L1489.05,981.9 L1489.05,982.2 L1492.29,982.2 L1492.29,982.6 L1495.53,982.6 L1495.53,982.9 L1498.77,982.9 L1498.77,983.2 L1502.01,983.2 L1502.01,983.7 L1505.25,983.7 L1505.25,983.8 L1508.49,983.8 L1508.49,983.8 L1511.72,983.8 L1511.72,984.1 L1514.96,984.1 L1514.96,984.2 L1518.20,984.2 L1518.20,984.5 L1521.44,984.5 L1521.44,984.6 L1524.68,984.6 L1524.68,984.7 L1527.92,984.7 L1527.92,985.1 L1531.16,985.1 L1531.16,985.2 L1534.40,985.2 L1534.40,985.5 L1537.64,985.5 L1537.64,985.4 L1540.88,985.4 L1540.88,985.6 L1544.12,985.6 L1544.12,985.7 L1547.35,985.7 L1547.35,985.7 L1550.59,985.7 L1550.59,985.9 L1553.83,985.9 L1553.83,986.1 L1557.07,986.1 L1557.07,986.1 L1560.31,986.1 L1560.31,986.4 L1563.55,986.4 L1563.55,986.4 L1566.79,986.4 L1566.79,986.5 L1570.03,986.5 L1570.03,986.7 L1573.27,986.7 L1573.27,986.6 L1576.51,986.6 L1576.51,986.8 L1579.75,986.8 L1579.75,986.8 L1582.98,986.8 L1582.98,986.9 L1586.22,986.9 L1586.22,986.9 L1589.46,986.9 L1589.46,986.9 L1592.70,986.9 L1592.70,987.1 L1595.94,987.1 L1595.94,987.2 L1599.18,987.2 L1599.18,987.2 L1602.42,987.2 L1602.42,987.2 L1605.66,987.2 L1605.66,987.3 L1608.90,987.3 L1608.90,987.4 L1612.14,987.4 L1612.14,987.4 L1615.38,987.4 L1615.38,987.5 L1618.62,987.5 L1618.62,987.5 L1621.85,987.5 L1621.85,987.5 L1625.09,987.5 L1625.09,987.5 L1628.33,987.5 L1628.33,987.6 L1631.57,987.6 L1631.57,987.6 L1634.81,987.6 L1634.81,987.6 L1638.05,987.6 L1638.05,987.7 L1641.29,987.7 L1641.29,987.7 L1644.53,987.7 L1644.53,987.7 L1647.77,987.7 L1647.77,987.7 L1651.01,987.7 L1651.01,987.7 L1654.25,987.7 L1654.25,987.7 L1657.48,987.7 L1657.48,987.8 L1660.72,987.8 L1660.72,987.8 L1663.96,987.8 L1663.96,987.8 L1667.20,987.8 L1667.20,987.8 L1670.44,987.8 L1670.44,987.8 L1673.68,987.8 L1673.68,987.8 L1676.92,987.8 L1676.92,987.8 L1680.16,987.8 L1680.16,987.9 L1683.40,987.9 L1683.40,987.9 L1686.64,987.9 L1686.64,987.9 L1689.88,987.9 L1689.88,987.8 L1693.11,987.8 L1693.11,987.9 L1696.35,987.9 L1696.35,987.9 L1699.59,987.9 L1699.59,987.9 L1702.83,987.9 L1702.83,987.9 L1706.07,987.9 L1706.07,987.9 L1709.31,987.9 L1709.31,987.9 L1712.55,987.9 L1712.55,988.0 L1715.79,988.0 L1715.79,987.9 L1719.03,987.9 L1719.03,988.0 L1722.27,988.0 L1722.27,987.9 L1725.51,987.9 L1725.51,988.0 L1728.75,988.0 L1728.75,988.0 L1731.98,988.0 L1731.98,988.0 L1735.22,988.0 L1735.22,987.9 L1738.46,987.9 L1738.46,988.0 L1741.70,988.0 L1741.70,988.0 L1744.94,988.0 L1744.94,988.0 L1748.18,988.0 L1748.18,988.0 L1751.42,988.0 L1751.42,988.0 L1754.66,988.0 L1754.66,988.0 L1757.90,988.0 L1757.90,988.0 L1761.14,988.0 L1761.14,988.0 L1764.38,988.0 L1764.38,988.0 L1767.61,988.0 L1767.61,988.0 L1770.85,988.0 L1770.85,988.0 L1774.09,988.0 L1774.09,988.0 L1777.33,988.0 L1777.33,988.0 L1780.57,988.0 L1780.57,988.0 L1783.81,988.0 L1783.81,988.0 L1787.05,988.0 L1787.05,988.0 L1790.29,988.0 L1790.29,988.0 L1793.53,988.0 L1793.53,988.0 L1796.77,988.0 L1796.77,988.0 L1800.01,988.0 L1800.01,988.0 L1803.24,988.0 L1803.24,988.0 L1806.48,988.0 L1806.48,988.0 L1809.72,988.0 L1809.72,988.0 L1812.96,988.0 L1812.96,988.0 L1816.20,988.0 L1816.20,988.0 L1819.44,988.0 L1819.44,988.0 L1822.68,988.0 L1822.68,988.0 L1825.92,988.0 L1825.92,988.0 L1829.16,988.0 L1829.16,988.0 L1832.40,988.0 L1832.40,988.0 L1835.64,988.0 L1835.64,989.7 Z" fill="#f0f" fill-opacity="0.5" stroke="none"/>
<path d="M552.5,987.4V988.8 M556.5,987.4V988.8 M559.5,987.3V988.8 M562.5,987.3V988.8 M565.5,987.2V988.8 M569.5,987.1V988.8 M572.5,987.1V988.8 M575.5,987.1V988.8 M578.5,987.0V988.8 M582.5,987.0V988.8 M585.5,986.9V988.8 M588.5,986.8V988.8 M591.5,986.8V988.8 M595.5,986.6V988.8 M598.5,986.6V988.8 M601.5,986.4V988.8 M604.5,986.4V988.8 M608.5,986.2V988.8 M611.5,986.2V988.8 M614.5,986.1V988.8 M617.5,985.9V988.8 M620.5,985.8V988.8 M624.5,985.7V988.8 M627.5,985.7V988.8 M630.5,985.4V988.8 M633.5,985.3V988.8 M637.5,985.2V988.8 M640.5,985.0V988.8 M643.5,984.6V988.8 M646.5,984.6V988.8 M650.5,984.5V988.8 M653.5,984.2V988.8 M656.5,984.0V988.8 M659.5,983.8V988.8 M663.5,983.5V988.8 M666.5,983.3V988.8 M669.5,983.1V988.8 M672.5,982.7V988.8 M676.5,982.5V988.8 M679.5,982.4V988.8 M682.5,982.0V988.8 M685.5,981.8V988.8 M688.5,981.3V988.8 M692.5,981.2V988.8 M695.5,981.0V988.8 M698.5,980.3V988.8 M701.5,980.1V988.8 M705.5,979.8V988.8 M708.5,979.0V988.8 M711.5,978.8V988.8 M714.5,978.1V988.8 M718.5,977.8V988.8 M721.5,977.4V988.8 M724.5,976.9V988.8 M727.5,976.1V988.8 M731.5,975.4V988.8 M734.5,974.8V988.8 M737.5,974.0V988.8 M740.5,973.4V988.8 M744.5,972.1V988.8 M747.5,971.5V988.8 M750.5,969.9V988.8 M753.5,968.2V988.8 M757.5,966.5V988.8 M760.5,964.5V988.8 M763.5,963.3V988.8 M766.5,960.1V988.8 M769.5,957.0V988.8 M773.5,953.6V988.8 M776.5,950.3V988.8 M779.5,945.2V988.8 M782.5,939.2V988.8 M786.5,934.3V988.8 M789.5,926.2V988.8 M792.5,917.6V988.8 M795.5,909.1V988.8 M799.5,897.7V988.8 M802.5,886.6V988.8 M805.5,873.0V988.8 M808.5,858.0V988.8 M812.5,840.8V988.8 M815.5,822.8V988.8 M818.5,802.3V988.8 M821.5,782.5V988.8 M825.5,759.1V988.8 M828.5,734.0V988.8 M831.5,709.1V988.8 M834.5,684.7V988.8 M837.5,655.6V988.8 M841.5,629.2V988.8 M844.5,600.6V988.8 M847.5,573.1V988.8 M850.5,544.9V988.8 M854.5,520.2V988.8 M857.5,497.9V988.8 M860.5,474.3V988.8 M863.5,450.4V988.8 M867.5,433.2V988.8 M870.5,415.3V988.8 M873.5,403.6V988.8 M876.5,395.4V988.8 M880.5,386.4V988.8 M883.5,386.2V988.8 M886.5,386.2V988.8 M889.5,386.8V988.8 M893.5,386.8V988.8 M896.5,399.8V988.8 M899.5,406.8V988.8 M902.5,419.9V988.8 M906.5,437.1V988.8 M909.5,458.1V988.8 M912.5,474.9V988.8 M915.5,500.2V988.8 M918.5,523.4V988.8 M922.5,546.3V988.8 M925.5,569.6V988.8 M928.5,594.9V988.8 M931.5,618.8V988.8 M935.5,644.2V988.8 M938.5,667.1V988.8 M941.5,690.2V988.8 M944.5,710.3V988.8 M948.5,729.0V988.8 M951.5,748.0V988.8 M954.5,763.9V988.8 M957.5,779.9V988.8 M961.5,793.4V988.8 M964.5,804.9V988.8 M967.5,815.7V988.8 M970.5,824.3V988.8 M974.5,832.5V988.8 M977.5,838.0V988.8 M980.5,845.0V988.8 M983.5,849.7V988.8 M986.5,853.9V988.8 M990.5,856.2V988.8 M993.5,858.0V988.8 M996.5,860.7V988.8 M999.5,861.4V988.8 M1003.5,861.7V988.8 M1006.5,862.7V988.8 M1009.5,862.1V988.8 M1012.5,862.1V988.8 M1016.5,861.8V988.8 M1019.5,860.8V988.8 M1022.5,860.3V988.8 M1025.5,860.3V988.8 M1029.5,860.1V988.8 M1032.5,858.9V988.8 M1035.5,858.5V988.8 M1038.5,858.5V988.8 M1042.5,856.3V988.8 M1045.5,856.3V988.8 M1048.5,855.4V988.8 M1051.5,855.4V988.8 M1055.5,854.1V988.8 M1058.5,854.1V988.8 M1061.5,854.2V988.8 M1064.5,854.2V988.8 M1067.5,853.6V988.8 M1071.5,853.4V988.8 M1074.5,853.2V988.8 M1077.5,852.6V988.8 M1080.5,852.6V988.8 M1084.5,852.1V988.8 M1087.5,852.1V988.8 M1090.5,853.1V988.8 M1093.5,853.0V988.8 M1097.5,852.8V988.8 M1100.5,852.6V988.8 M1103.5,852.6V988.8 M1106.5,853.2V988.8 M1110.5,854.3V988.8 M1113.5,854.0V988.8 M1116.5,854.0V988.8 M1119.5,855.5V988.8 M1123.5,856.4V988.8 M1126.5,856.5V988.8 M1129.5,857.6V988.8 M1132.5,857.6V988.8 M1135.5,858.7V988.8 M1139.5,858.7V988.8 M1142.5,860.2V988.8 M1145.5,861.9V988.8 M1148.5,861.9V988.8 M1152.5,862.7V988.8 M1155.5,864.7V988.8 M1158.5,865.7V988.8 M1161.5,867.1V988.8 M1165.5,867.1V988.8 M1168.5,869.2V988.8 M1171.5,871.4V988.8 M1174.5,872.5V988.8 M1178.5,872.8V988.8 M1181.5,873.5V988.8 M1184.5,875.4V988.8 M1187.5,876.4V988.8 M1191.5,878.8V988.8 M1194.5,880.4V988.8 M1197.5,880.5V988.8 M1200.5,882.2V988.8 M1204.5,884.0V988.8 M1207.5,884.8V988.8 M1210.5,887.6V988.8 M1213.5,888.9V988.8 M1216.5,889.6V988.8 M1220.5,890.8V988.8 M1223.5,893.4V988.8 M1226.5,894.1V988.8 M1229.5,897.0V988.8 M1233.5,898.1V988.8 M1236.5,900.0V988.8 M1239.5,902.4V988.8 M1242.5,903.1V988.8 M1246.5,904.4V988.8 M1249.5,906.6V988.8 M1252.5,908.2V988.8 M1255.5,909.1V988.8 M1259.5,912.1V988.8 M1262.5,913.9V988.8 M1265.5,915.1V988.8 M1268.5,917.0V988.8 M1272.5,917.3V988.8 M1275.5,919.4V988.8 M1278.5,921.6V988.8 M1281.5,923.0V988.8 M1284.5,923.0V988.8 M1288.5,926.2V988.8 M1291.5,927.8V988.8 M1294.5,928.9V988.8 M1297.5,930.3V988.8 M1301.5,932.0V988.8 M1304.5,933.9V988.8 M1307.5,935.5V988.8 M1310.5,936.2V988.8 M1314.5,937.9V988.8 M1317.5,940.0V988.8 M1320.5,940.2V988.8 M1323.5,941.8V988.8 M1327.5,943.5V988.8 M1330.5,944.8V988.8 M1333.5,945.9V988.8 M1336.5,947.6V988.8 M1340.5,949.1V988.8 M1343.5,949.7V988.8 M1346.5,951.5V988.8 M1349.5,952.1V988.8 M1353.5,953.9V988.8 M1356.5,954.5V988.8 M1359.5,955.7V988.8 M1362.5,956.1V988.8 M1365.5,958.1V988.8 M1369.5,959.3V988.8 M1372.5,960.0V988.8 M1375.5,961.2V988.8 M1378.5,962.0V988.8 M1382.5,962.6V988.8 M1385.5,963.4V988.8 M1388.5,964.1V988.8 M1391.5,965.6V988.8 M1395.5,965.6V988.8 M1398.5,966.6V988.8 M1401.5,967.9V988.8 M1404.5,969.3V988.8 M1408.5,969.4V988.8 M1411.5,970.1V988.8 M1414.5,971.4V988.8 M1417.5,971.5V988.8 M1421.5,972.3V988.8 M1424.5,973.1V988.8 M1427.5,973.4V988.8 M1430.5,973.9V988.8 M1433.5,974.8V988.8 M1437.5,975.2V988.8 M1440.5,975.9V988.8 M1443.5,976.5V988.8 M1446.5,976.8V988.8 M1450.5,977.2V988.8 M1453.5,977.9V988.8 M1456.5,978.6V988.8 M1459.5,978.6V988.8 M1463.5,979.4V988.8 M1466.5,979.5V988.8 M1469.5,979.6V988.8 M1472.5,980.3V988.8 M1476.5,980.9V988.8 M1479.5,981.2V988.8 M1482.5,981.2V988.8 M1485.5,981.7V988.8 M1489.5,981.9V988.8 M1492.5,982.2V988.8 M1495.5,982.6V988.8 M1498.5,982.9V988.8 M1502.5,983.2V988.8 M1505.5,983.7V988.8 M1508.5,983.8V988.8 M1511.5,983.8V988.8 M1514.5,984.1V988.8 M1518.5,984.2V988.8 M1521.5,984.5V988.8 M1524.5,984.6V988.8 M1527.5,984.7V988.8 M1531.5,985.1V988.8 M1534.5,985.2V988.8 M1537.5,985.4V988.8 M1540.5,985.4V988.8 M1544.5,985.6V988.8 M1547.5,985.7V988.8 M1550.5,985.7V988.8 M1553.5,985.9V988.8 M1557.5,986.1V988.8 M1560.5,986.1V988.8 M1563.5,986.4V988.8 M1566.5,986.4V988.8 M1570.5,986.5V988.8 M1573.5,986.6V988.8 M1576.5,986.6V988.8 M1579.5,986.8V988.8 M1582.5,986.8V988.8 M1586.5,986.9V988.8 M1589.5,986.9V988.8 M1592.5,986.9V988.8 M1595.5,987.1V988.8 M1599.5,987.2V988.8 M1602.5,987.2V988.8 M1605.5,987.2V988.8 M1608.5,987.3V988.8 M1612.5,987.4V988.8 M1615.5,987.4V988.8" stroke="#f0f" stroke-opacity="0.42" stroke-width="1" shape-rendering="crispEdges"/>
<path d="M281.0,988.0 L282.0,988.0 L283.0,988.0 L284.0,988.0 L285.0,988.0 L286.0,988.0 L287.0,988.0 L288.0,988.0 L289.0,988.0 L290.1,988.0 L291.1,988.0 L292.1,988.0 L293.1,988.0 L294.1,988.0 L295.1,988.0 L296.1,988.0 L297.1,988.0 L298.1,988.0 L299.1,988.0 L300.1,988.0 L301.1,988.0 L302.1,988.0 L303.1,988.0 L304.1,988.0 L305.1,988.0 L306.1,988.0 L307.2,988.0 L308.2,988.0 L309.2,988.0 L310.2,988.0 L311.2,988.0 L312.2,988.0 L313.2,988.0 L314.2,988.0 L315.2,988.0 L316.2,988.0 L317.2,988.0 L318.2,988.0 L319.2,988.0 L320.2,988.0 L321.2,988.0 L322.2,988.0 L323.2,988.0 L324.3,988.0 L325.3,988.0 L326.3,988.0 L327.3,988.0 L328.3,988.0 L329.3,988.0 L330.3,988.0 L331.3,988.0 L332.3,988.0 L333.3,988.0 L334.3,988.0 L335.3,988.0 L336.3,988.0 L337.3,988.0 L338.3,988.0 L339.3,988.0 L340.4,988.0 L341.4,988.0 L342.4,988.0 L343.4,988.0 L344.4,988.0 L345.4,988.0 L346.4,988.0 L347.4,988.0 L348.4,988.0 L349.4,988.0 L350.4,988.0 L351.4,988.0 L352.4,988.0 L353.4,988.0 L354.4,988.0 L355.4,988.0 L356.4,988.0 L357.5,988.0 L358.5,988.0 L359.5,988.0 L360.5,988.0 L361.5,988.0 L362.5,988.0 L363.5,988.0 L364.5,988.0 L365.5,988.0 L366.5,988.0 L367.5,988.0 L368.5,988.0 L369.5,988.0 L370.5,988.0 L371.5,988.0 L372.5,988.0 L373.5,988.0 L374.6,988.0 L375.6,988.0 L376.6,988.0 L377.6,988.0 L378.6,988.0 L379.6,988.0 L380.6,988.0 L381.6,988.0 L382.6,988.0 L383.6,988.0 L384.6,988.0 L385.6,988.0 L386.6,988.0 L387.6,988.0 L388.6,988.0 L389.6,988.0 L390.6,988.0 L391.7,988.0 L392.7,988.0 L393.7,988.0 L394.7,988.0 L395.7,988.0 L396.7,988.0 L397.7,988.0 L398.7,988.0 L399.7,988.0 L400.7,988.0 L401.7,988.0 L402.7,988.0 L403.7,988.0 L404.7,988.0 L405.7,988.0 L406.7,988.0 L407.7,988.0 L408.8,988.0 L409.8,988.0 L410.8,988.0 L411.8,988.0 L412.8,988.0 L413.8,988.0 L414.8,988.0 L415.8,988.0 L416.8,988.0 L417.8,988.0 L418.8,988.0 L419.8,988.0 L420.8,988.0 L421.8,988.0 L422.8,988.0 L423.8,988.0 L424.8,988.0 L425.9,988.0 L426.9,988.0 L427.9,988.0 L428.9,988.0 L429.9,988.0 L430.9,988.0 L431.9,988.0 L432.9,988.0 L433.9,988.0 L434.9,988.0 L435.9,988.0 L436.9,988.0 L437.9,988.0 L438.9,988.0 L439.9,988.0 L440.9,988.0 L442.0,988.0 L443.0,988.0 L444.0,988.0 L445.0,988.0 L446.0,987.9 L447.0,987.9 L448.0,987.9 L449.0,987.9 L450.0,987.9 L451.0,987.9 L452.0,987.9 L453.0,987.9 L454.0,987.9 L455.0,987.9 L456.0,987.9 L457.0,987.9 L458.0,987.9 L459.1,987.9 L460.1,987.9 L461.1,987.9 L462.1,987.9 L463.1,987.9 L464.1,987.9 L465.1,987.9 L466.1,987.9 L467.1,987.9 L468.1,987.9 L469.1,987.9 L470.1,987.9 L471.1,987.9 L472.1,987.9 L473.1,987.9 L474.1,987.9 L475.1,987.9 L476.2,987.9 L477.2,987.9 L478.2,987.9 L479.2,987.9 L480.2,987.9 L481.2,987.9 L482.2,987.9 L483.2,987.9 L484.2,987.9 L485.2,987.9 L486.2,987.9 L487.2,987.9 L488.2,987.9 L489.2,987.9 L490.2,987.9 L491.2,987.9 L492.2,987.8 L493.3,987.8 L494.3,987.8 L495.3,987.8 L496.3,987.8 L497.3,987.8 L498.3,987.8 L499.3,987.8 L500.3,987.8 L501.3,987.8 L502.3,987.8 L503.3,987.8 L504.3,987.8 L505.3,987.8 L506.3,987.8 L507.3,987.8 L508.3,987.8 L509.3,987.8 L510.4,987.8 L511.4,987.8 L512.4,987.8 L513.4,987.8 L514.4,987.7 L515.4,987.7 L516.4,987.7 L517.4,987.7 L518.4,987.7 L519.4,987.7 L520.4,987.7 L521.4,987.7 L522.4,987.7 L523.4,987.7 L524.4,987.7 L525.4,987.7 L526.4,987.7 L527.5,987.7 L528.5,987.7 L529.5,987.7 L530.5,987.6 L531.5,987.6 L532.5,987.6 L533.5,987.6 L534.5,987.6 L535.5,987.6 L536.5,987.6 L537.5,987.6 L538.5,987.6 L539.5,987.6 L540.5,987.6 L541.5,987.5 L542.5,987.5 L543.5,987.5 L544.6,987.5 L545.6,987.5 L546.6,987.5 L547.6,987.5 L548.6,987.5 L549.6,987.5 L550.6,987.5 L551.6,987.4 L552.6,987.4 L553.6,987.4 L554.6,987.4 L555.6,987.4 L556.6,987.4 L557.6,987.4 L558.6,987.4 L559.6,987.3 L560.7,987.3 L561.7,987.3 L562.7,987.3 L563.7,987.3 L564.7,987.3 L565.7,987.3 L566.7,987.2 L567.7,987.2 L568.7,987.2 L569.7,987.2 L570.7,987.2 L571.7,987.2 L572.7,987.1 L573.7,987.1 L574.7,987.1 L575.7,987.1 L576.7,987.1 L577.8,987.1 L578.8,987.0 L579.8,987.0 L580.8,987.0 L581.8,987.0 L582.8,987.0 L583.8,986.9 L584.8,986.9 L585.8,986.9 L586.8,986.9 L587.8,986.9 L588.8,986.8 L589.8,986.8 L590.8,986.8 L591.8,986.8 L592.8,986.7 L593.8,986.7 L594.9,986.7 L595.9,986.7 L596.9,986.6 L597.9,986.6 L598.9,986.6 L599.9,986.6 L600.9,986.5 L601.9,986.5 L602.9,986.5 L603.9,986.5 L604.9,986.4 L605.9,986.4 L606.9,986.4 L607.9,986.3 L608.9,986.3 L609.9,986.3 L610.9,986.2 L612.0,986.2 L613.0,986.2 L614.0,986.1 L615.0,986.1 L616.0,986.1 L617.0,986.0 L618.0,986.0 L619.0,986.0 L620.0,985.9 L621.0,985.9 L622.0,985.9 L623.0,985.8 L624.0,985.8 L625.0,985.7 L626.0,985.7 L627.0,985.6 L628.0,985.6 L629.1,985.6 L630.1,985.5 L631.1,985.5 L632.1,985.4 L633.1,985.4 L634.1,985.3 L635.1,985.3 L636.1,985.2 L637.1,985.2 L638.1,985.1 L639.1,985.1 L640.1,985.0 L641.1,985.0 L642.1,984.9 L643.1,984.9 L644.1,984.8 L645.1,984.8 L646.2,984.7 L647.2,984.7 L648.2,984.6 L649.2,984.6 L650.2,984.5 L651.2,984.4 L652.2,984.4 L653.2,984.3 L654.2,984.3 L655.2,984.2 L656.2,984.1 L657.2,984.1 L658.2,984.0 L659.2,983.9 L660.2,983.9 L661.2,983.8 L662.3,983.7 L663.3,983.7 L664.3,983.6 L665.3,983.5 L666.3,983.4 L667.3,983.4 L668.3,983.3 L669.3,983.2 L670.3,983.1 L671.3,983.1 L672.3,983.0 L673.3,982.9 L674.3,982.8 L675.3,982.7 L676.3,982.6 L677.3,982.6 L678.3,982.5 L679.4,982.4 L680.4,982.3 L681.4,982.2 L682.4,982.1 L683.4,982.0 L684.4,981.9 L685.4,981.8 L686.4,981.7 L687.4,981.6 L688.4,981.5 L689.4,981.4 L690.4,981.3 L691.4,981.2 L692.4,981.1 L693.4,981.0 L694.4,980.9 L695.4,980.8 L696.5,980.7 L697.5,980.6 L698.5,980.5 L699.5,980.3 L700.5,980.2 L701.5,980.1 L702.5,980.0 L703.5,979.9 L704.5,979.7 L705.5,979.6 L706.5,979.5 L707.5,979.4 L708.5,979.2 L709.5,979.1 L710.5,979.0 L711.5,978.8 L712.5,978.7 L713.6,978.5 L714.6,978.4 L715.6,978.2 L716.6,978.1 L717.6,977.9 L718.6,977.8 L719.6,977.6 L720.6,977.5 L721.6,977.3 L722.6,977.1 L723.6,976.9 L724.6,976.8 L725.6,976.6 L726.6,976.4 L727.6,976.2 L728.6,976.0 L729.6,975.8 L730.7,975.6 L731.7,975.4 L732.7,975.2 L733.7,975.0 L734.7,974.7 L735.7,974.5 L736.7,974.3 L737.7,974.0 L738.7,973.8 L739.7,973.5 L740.7,973.2 L741.7,972.9 L742.7,972.6 L743.7,972.3 L744.7,972.0 L745.7,971.7 L746.7,971.3 L747.8,971.0 L748.8,970.6 L749.8,970.2 L750.8,969.8 L751.8,969.4 L752.8,969.0 L753.8,968.5 L754.8,968.0 L755.8,967.5 L756.8,967.0 L757.8,966.5 L758.8,965.9 L759.8,965.3 L760.8,964.7 L761.8,964.0 L762.8,963.3 L763.8,962.6 L764.9,961.8 L765.9,961.1 L766.9,960.2 L767.9,959.4 L768.9,958.5 L769.9,957.5 L770.9,956.5 L771.9,955.5 L772.9,954.4 L773.9,953.2 L774.9,952.0 L775.9,950.7 L776.9,949.4 L777.9,948.0 L778.9,946.6 L779.9,945.1 L781.0,943.5 L782.0,941.8 L783.0,940.1 L784.0,938.3 L785.0,936.4 L786.0,934.4 L787.0,932.3 L788.0,930.2 L789.0,927.9 L790.0,925.6 L791.0,923.1 L792.0,920.6 L793.0,917.9 L794.0,915.2 L795.0,912.3 L796.0,909.3 L797.0,906.2 L798.1,903.0 L799.1,899.7 L800.1,896.2 L801.1,892.6 L802.1,888.9 L803.1,885.0 L804.1,881.1 L805.1,876.9 L806.1,872.7 L807.1,868.3 L808.1,863.8 L809.1,859.1 L810.1,854.3 L811.1,849.3 L812.1,844.2 L813.1,839.0 L814.1,833.6 L815.2,828.1 L816.2,822.4 L817.2,816.6 L818.2,810.6 L819.2,804.5 L820.2,798.3 L821.2,791.9 L822.2,785.4 L823.2,778.7 L824.2,771.9 L825.2,765.0 L826.2,758.0 L827.2,750.8 L828.2,743.6 L829.2,736.2 L830.2,728.7 L831.2,721.1 L832.3,713.4 L833.3,705.6 L834.3,697.8 L835.3,689.8 L836.3,681.8 L837.3,673.7 L838.3,665.6 L839.3,657.4 L840.3,649.2 L841.3,641.0 L842.3,632.7 L843.3,624.4 L844.3,616.1 L845.3,607.8 L846.3,599.6 L847.3,591.3 L848.3,583.1 L849.4,575.0 L850.4,566.9 L851.4,558.8 L852.4,550.9 L853.4,543.0 L854.4,535.2 L855.4,527.6 L856.4,520.0 L857.4,512.6 L858.4,505.3 L859.4,498.2 L860.4,491.3 L861.4,484.5 L862.4,477.9 L863.4,471.5 L864.4,465.3 L865.4,459.3 L866.5,453.5 L867.5,448.0 L868.5,442.7 L869.5,437.7 L870.5,432.9 L871.5,428.3 L872.5,424.1 L873.5,420.1 L874.5,416.4 L875.5,413.0 L876.5,409.9 L877.5,407.0 L878.5,404.5 L879.5,402.3 L880.5,400.4 L881.5,398.8 L882.6,397.6 L883.6,396.6 L884.6,396.0 L885.6,395.6 L886.6,395.6 L887.6,395.9 L888.6,396.6 L889.6,397.5 L890.6,398.7 L891.6,400.3 L892.6,402.1 L893.6,404.3 L894.6,406.7 L895.6,409.5 L896.6,412.5 L897.6,415.8 L898.6,419.4 L899.7,423.2 L900.7,427.3 L901.7,431.6 L902.7,436.2 L903.7,441.0 L904.7,446.0 L905.7,451.3 L906.7,456.7 L907.7,462.4 L908.7,468.2 L909.7,474.2 L910.7,480.4 L911.7,486.7 L912.7,493.2 L913.7,499.8 L914.7,506.5 L915.7,513.3 L916.8,520.3 L917.8,527.3 L918.8,534.4 L919.8,541.6 L920.8,548.8 L921.8,556.1 L922.8,563.4 L923.8,570.7 L924.8,578.1 L925.8,585.4 L926.8,592.8 L927.8,600.2 L928.8,607.5 L929.8,614.8 L930.8,622.1 L931.8,629.3 L932.8,636.5 L933.9,643.6 L934.9,650.6 L935.9,657.6 L936.9,664.5 L937.9,671.3 L938.9,678.0 L939.9,684.6 L940.9,691.1 L941.9,697.5 L942.9,703.7 L943.9,709.9 L944.9,715.9 L945.9,721.8 L946.9,727.6 L947.9,733.3 L948.9,738.8 L949.9,744.2 L951.0,749.5 L952.0,754.6 L953.0,759.5 L954.0,764.4 L955.0,769.1 L956.0,773.6 L957.0,778.0 L958.0,782.3 L959.0,786.5 L960.0,790.4 L961.0,794.3 L962.0,798.0 L963.0,801.6 L964.0,805.1 L965.0,808.4 L966.0,811.6 L967.0,814.6 L968.1,817.5 L969.1,820.4 L970.1,823.0 L971.1,825.6 L972.1,828.1 L973.1,830.4 L974.1,832.6 L975.1,834.7 L976.1,836.7 L977.1,838.6 L978.1,840.4 L979.1,842.1 L980.1,843.8 L981.1,845.3 L982.1,846.7 L983.1,848.1 L984.2,849.3 L985.2,850.5 L986.2,851.6 L987.2,852.7 L988.2,853.6 L989.2,854.5 L990.2,855.4 L991.2,856.1 L992.2,856.8 L993.2,857.5 L994.2,858.1 L995.2,858.6 L996.2,859.1 L997.2,859.6 L998.2,860.0 L999.2,860.4 L1000.2,860.7 L1001.3,861.0 L1002.3,861.2 L1003.3,861.4 L1004.3,861.6 L1005.3,861.8 L1006.3,861.9 L1007.3,862.0 L1008.3,862.0 L1009.3,862.1 L1010.3,862.1 L1011.3,862.1 L1012.3,862.1 L1013.3,862.1 L1014.3,862.0 L1015.3,861.9 L1016.3,861.9 L1017.3,861.8 L1018.4,861.6 L1019.4,861.5 L1020.4,861.4 L1021.4,861.3 L1022.4,861.1 L1023.4,861.0 L1024.4,860.8 L1025.4,860.6 L1026.4,860.5 L1027.4,860.3 L1028.4,860.1 L1029.4,859.9 L1030.4,859.7 L1031.4,859.5 L1032.4,859.3 L1033.4,859.2 L1034.4,859.0 L1035.5,858.8 L1036.5,858.6 L1037.5,858.4 L1038.5,858.2 L1039.5,858.0 L1040.5,857.8 L1041.5,857.6 L1042.5,857.4 L1043.5,857.2 L1044.5,857.0 L1045.5,856.9 L1046.5,856.7 L1047.5,856.5 L1048.5,856.3 L1049.5,856.2 L1050.5,856.0 L1051.5,855.8 L1052.6,855.7 L1053.6,855.5 L1054.6,855.4 L1055.6,855.2 L1056.6,855.1 L1057.6,854.9 L1058.6,854.8 L1059.6,854.7 L1060.6,854.5 L1061.6,854.4 L1062.6,854.3 L1063.6,854.2 L1064.6,854.1 L1065.6,854.0 L1066.6,853.9 L1067.6,853.8 L1068.6,853.7 L1069.7,853.6 L1070.7,853.5 L1071.7,853.5 L1072.7,853.4 L1073.7,853.3 L1074.7,853.3 L1075.7,853.2 L1076.7,853.2 L1077.7,853.1 L1078.7,853.1 L1079.7,853.0 L1080.7,853.0 L1081.7,853.0 L1082.7,853.0 L1083.7,853.0 L1084.7,853.0 L1085.8,853.0 L1086.8,853.0 L1087.8,853.0 L1088.8,853.0 L1089.8,853.0 L1090.8,853.0 L1091.8,853.1 L1092.8,853.1 L1093.8,853.1 L1094.8,853.2 L1095.8,853.2 L1096.8,853.3 L1097.8,853.3 L1098.8,853.4 L1099.8,853.5 L1100.8,853.6 L1101.8,853.6 L1102.9,853.7 L1103.9,853.8 L1104.9,853.9 L1105.9,854.0 L1106.9,854.1 L1107.9,854.2 L1108.9,854.3 L1109.9,854.5 L1110.9,854.6 L1111.9,854.7 L1112.9,854.9 L1113.9,855.0 L1114.9,855.2 L1115.9,855.3 L1116.9,855.5 L1117.9,855.6 L1118.9,855.8 L1120.0,856.0 L1121.0,856.1 L1122.0,856.3 L1123.0,856.5 L1124.0,856.7 L1125.0,856.9 L1126.0,857.1 L1127.0,857.3 L1128.0,857.5 L1129.0,857.7 L1130.0,858.0 L1131.0,858.2 L1132.0,858.4 L1133.0,858.6 L1134.0,858.9 L1135.0,859.1 L1136.0,859.4 L1137.1,859.6 L1138.1,859.9 L1139.1,860.2 L1140.1,860.4 L1141.1,860.7 L1142.1,861.0 L1143.1,861.2 L1144.1,861.5 L1145.1,861.8 L1146.1,862.1 L1147.1,862.4 L1148.1,862.7 L1149.1,863.0 L1150.1,863.3 L1151.1,863.6 L1152.1,863.9 L1153.1,864.3 L1154.2,864.6 L1155.2,864.9 L1156.2,865.3 L1157.2,865.6 L1158.2,865.9 L1159.2,866.3 L1160.2,866.6 L1161.2,867.0 L1162.2,867.3 L1163.2,867.7 L1164.2,868.1 L1165.2,868.4 L1166.2,868.8 L1167.2,869.2 L1168.2,869.5 L1169.2,869.9 L1170.2,870.3 L1171.3,870.7 L1172.3,871.1 L1173.3,871.5 L1174.3,871.9 L1175.3,872.3 L1176.3,872.7 L1177.3,873.1 L1178.3,873.5 L1179.3,873.9 L1180.3,874.3 L1181.3,874.7 L1182.3,875.2 L1183.3,875.6 L1184.3,876.0 L1185.3,876.4 L1186.3,876.9 L1187.3,877.3 L1188.4,877.7 L1189.4,878.2 L1190.4,878.6 L1191.4,879.1 L1192.4,879.5 L1193.4,880.0 L1194.4,880.4 L1195.4,880.9 L1196.4,881.3 L1197.4,881.8 L1198.4,882.2 L1199.4,882.7 L1200.4,883.2 L1201.4,883.6 L1202.4,884.1 L1203.4,884.6 L1204.5,885.0 L1205.5,885.5 L1206.5,886.0 L1207.5,886.5 L1208.5,887.0 L1209.5,887.4 L1210.5,887.9 L1211.5,888.4 L1212.5,888.9 L1213.5,889.4 L1214.5,889.9 L1215.5,890.4 L1216.5,890.8 L1217.5,891.3 L1218.5,891.8 L1219.5,892.3 L1220.5,892.8 L1221.6,893.3 L1222.6,893.8 L1223.6,894.3 L1224.6,894.8 L1225.6,895.3 L1226.6,895.8 L1227.6,896.3 L1228.6,896.8 L1229.6,897.3 L1230.6,897.8 L1231.6,898.3 L1232.6,898.9 L1233.6,899.4 L1234.6,899.9 L1235.6,900.4 L1236.6,900.9 L1237.6,901.4 L1238.7,901.9 L1239.7,902.4 L1240.7,902.9 L1241.7,903.4 L1242.7,903.9 L1243.7,904.5 L1244.7,905.0 L1245.7,905.5 L1246.7,906.0 L1247.7,906.5 L1248.7,907.0 L1249.7,907.5 L1250.7,908.0 L1251.7,908.5 L1252.7,909.1 L1253.7,909.6 L1254.7,910.1 L1255.8,910.6 L1256.8,911.1 L1257.8,911.6 L1258.8,912.1 L1259.8,912.6 L1260.8,913.1 L1261.8,913.6 L1262.8,914.1 L1263.8,914.7 L1264.8,915.2 L1265.8,915.7 L1266.8,916.2 L1267.8,916.7 L1268.8,917.2 L1269.8,917.7 L1270.8,918.2 L1271.8,918.7 L1272.9,919.2 L1273.9,919.7 L1274.9,920.2 L1275.9,920.7 L1276.9,921.2 L1277.9,921.7 L1278.9,922.1 L1279.9,922.6 L1280.9,923.1 L1281.9,923.6 L1282.9,924.1 L1283.9,924.6 L1284.9,925.1 L1285.9,925.6 L1286.9,926.1 L1287.9,926.5 L1288.9,927.0 L1290.0,927.5 L1291.0,928.0 L1292.0,928.4 L1293.0,928.9 L1294.0,929.4 L1295.0,929.9 L1296.0,930.3 L1297.0,930.8 L1298.0,931.3 L1299.0,931.7 L1300.0,932.2 L1301.0,932.7 L1302.0,933.1 L1303.0,933.6 L1304.0,934.0 L1305.0,934.5 L1306.1,935.0 L1307.1,935.4 L1308.1,935.9 L1309.1,936.3 L1310.1,936.7 L1311.1,937.2 L1312.1,937.6 L1313.1,938.1 L1314.1,938.5 L1315.1,938.9 L1316.1,939.4 L1317.1,939.8 L1318.1,940.2 L1319.1,940.7 L1320.1,941.1 L1321.1,941.5 L1322.1,942.0 L1323.2,942.4 L1324.2,942.8 L1325.2,943.2 L1326.2,943.6 L1327.2,944.0 L1328.2,944.4 L1329.2,944.9 L1330.2,945.3 L1331.2,945.7 L1332.2,946.1 L1333.2,946.5 L1334.2,946.9 L1335.2,947.3 L1336.2,947.6 L1337.2,948.0 L1338.2,948.4 L1339.2,948.8 L1340.3,949.2 L1341.3,949.6 L1342.3,950.0 L1343.3,950.3 L1344.3,950.7 L1345.3,951.1 L1346.3,951.4 L1347.3,951.8 L1348.3,952.2 L1349.3,952.5 L1350.3,952.9 L1351.3,953.3 L1352.3,953.6 L1353.3,954.0 L1354.3,954.3 L1355.3,954.7 L1356.3,955.0 L1357.4,955.4 L1358.4,955.7 L1359.4,956.0 L1360.4,956.4 L1361.4,956.7 L1362.4,957.1 L1363.4,957.4 L1364.4,957.7 L1365.4,958.0 L1366.4,958.4 L1367.4,958.7 L1368.4,959.0 L1369.4,959.3 L1370.4,959.6 L1371.4,959.9 L1372.4,960.3 L1373.4,960.6 L1374.5,960.9 L1375.5,961.2 L1376.5,961.5 L1377.5,961.8 L1378.5,962.1 L1379.5,962.4 L1380.5,962.6 L1381.5,962.9 L1382.5,963.2 L1383.5,963.5 L1384.5,963.8 L1385.5,964.1 L1386.5,964.3 L1387.5,964.6 L1388.5,964.9 L1389.5,965.2 L1390.5,965.4 L1391.6,965.7 L1392.6,965.9 L1393.6,966.2 L1394.6,966.5 L1395.6,966.7 L1396.6,967.0 L1397.6,967.2 L1398.6,967.5 L1399.6,967.7 L1400.6,968.0 L1401.6,968.2 L1402.6,968.5 L1403.6,968.7 L1404.6,968.9 L1405.6,969.2 L1406.6,969.4 L1407.6,969.6 L1408.7,969.9 L1409.7,970.1 L1410.7,970.3 L1411.7,970.5 L1412.7,970.7 L1413.7,971.0 L1414.7,971.2 L1415.7,971.4 L1416.7,971.6 L1417.7,971.8 L1418.7,972.0 L1419.7,972.2 L1420.7,972.4 L1421.7,972.6 L1422.7,972.8 L1423.7,973.0 L1424.8,973.2 L1425.8,973.4 L1426.8,973.6 L1427.8,973.8 L1428.8,974.0 L1429.8,974.2 L1430.8,974.4 L1431.8,974.5 L1432.8,974.7 L1433.8,974.9 L1434.8,975.1 L1435.8,975.2 L1436.8,975.4 L1437.8,975.6 L1438.8,975.8 L1439.8,975.9 L1440.8,976.1 L1441.9,976.2 L1442.9,976.4 L1443.9,976.6 L1444.9,976.7 L1445.9,976.9 L1446.9,977.0 L1447.9,977.2 L1448.9,977.3 L1449.9,977.5 L1450.9,977.6 L1451.9,977.8 L1452.9,977.9 L1453.9,978.1 L1454.9,978.2 L1455.9,978.3 L1456.9,978.5 L1457.9,978.6 L1459.0,978.8 L1460.0,978.9 L1461.0,979.0 L1462.0,979.1 L1463.0,979.3 L1464.0,979.4 L1465.0,979.5 L1466.0,979.7 L1467.0,979.8 L1468.0,979.9 L1469.0,980.0 L1470.0,980.1 L1471.0,980.2 L1472.0,980.4 L1473.0,980.5 L1474.0,980.6 L1475.0,980.7 L1476.1,980.8 L1477.1,980.9 L1478.1,981.0 L1479.1,981.1 L1480.1,981.2 L1481.1,981.3 L1482.1,981.4 L1483.1,981.5 L1484.1,981.6 L1485.1,981.7 L1486.1,981.8 L1487.1,981.9 L1488.1,982.0 L1489.1,982.1 L1490.1,982.2 L1491.1,982.3 L1492.1,982.4 L1493.2,982.5 L1494.2,982.6 L1495.2,982.6 L1496.2,982.7 L1497.2,982.8 L1498.2,982.9 L1499.2,983.0 L1500.2,983.1 L1501.2,983.1 L1502.2,983.2 L1503.2,983.3 L1504.2,983.4 L1505.2,983.4 L1506.2,983.5 L1507.2,983.6 L1508.2,983.7 L1509.2,983.7 L1510.3,983.8 L1511.3,983.9 L1512.3,983.9 L1513.3,984.0 L1514.3,984.1 L1515.3,984.1 L1516.3,984.2 L1517.3,984.3 L1518.3,984.3 L1519.3,984.4 L1520.3,984.4 L1521.3,984.5 L1522.3,984.6 L1523.3,984.6 L1524.3,984.7 L1525.3,984.7 L1526.4,984.8 L1527.4,984.8 L1528.4,984.9 L1529.4,984.9 L1530.4,985.0 L1531.4,985.0 L1532.4,985.1 L1533.4,985.1 L1534.4,985.2 L1535.4,985.2 L1536.4,985.3 L1537.4,985.3 L1538.4,985.4 L1539.4,985.4 L1540.4,985.5 L1541.4,985.5 L1542.4,985.6 L1543.5,985.6 L1544.5,985.6 L1545.5,985.7 L1546.5,985.7 L1547.5,985.8 L1548.5,985.8 L1549.5,985.9 L1550.5,985.9 L1551.5,985.9 L1552.5,986.0 L1553.5,986.0 L1554.5,986.0 L1555.5,986.1 L1556.5,986.1 L1557.5,986.1 L1558.5,986.2 L1559.5,986.2 L1560.6,986.2 L1561.6,986.3 L1562.6,986.3 L1563.6,986.3 L1564.6,986.4 L1565.6,986.4 L1566.6,986.4 L1567.6,986.5 L1568.6,986.5 L1569.6,986.5 L1570.6,986.5 L1571.6,986.6 L1572.6,986.6 L1573.6,986.6 L1574.6,986.6 L1575.6,986.7 L1576.6,986.7 L1577.7,986.7 L1578.7,986.7 L1579.7,986.8 L1580.7,986.8 L1581.7,986.8 L1582.7,986.8 L1583.7,986.9 L1584.7,986.9 L1585.7,986.9 L1586.7,986.9 L1587.7,986.9 L1588.7,987.0 L1589.7,987.0 L1590.7,987.0 L1591.7,987.0 L1592.7,987.0 L1593.7,987.1 L1594.8,987.1 L1595.8,987.1 L1596.8,987.1 L1597.8,987.1 L1598.8,987.1 L1599.8,987.2 L1600.8,987.2 L1601.8,987.2 L1602.8,987.2 L1603.8,987.2 L1604.8,987.2 L1605.8,987.3 L1606.8,987.3 L1607.8,987.3 L1608.8,987.3 L1609.8,987.3 L1610.8,987.3 L1611.9,987.3 L1612.9,987.4 L1613.9,987.4 L1614.9,987.4 L1615.9,987.4 L1616.9,987.4 L1617.9,987.4 L1618.9,987.4 L1619.9,987.4 L1620.9,987.5 L1621.9,987.5 L1622.9,987.5 L1623.9,987.5 L1624.9,987.5 L1625.9,987.5 L1626.9,987.5 L1628.0,987.5 L1629.0,987.5 L1630.0,987.5 L1631.0,987.6 L1632.0,987.6 L1633.0,987.6 L1634.0,987.6 L1635.0,987.6 L1636.0,987.6 L1637.0,987.6 L1638.0,987.6 L1639.0,987.6 L1640.0,987.6 L1641.0,987.6 L1642.0,987.7 L1643.0,987.7 L1644.0,987.7 L1645.1,987.7 L1646.1,987.7 L1647.1,987.7 L1648.1,987.7 L1649.1,987.7 L1650.1,987.7 L1651.1,987.7 L1652.1,987.7 L1653.1,987.7 L1654.1,987.7 L1655.1,987.7 L1656.1,987.7 L1657.1,987.7 L1658.1,987.8 L1659.1,987.8 L1660.1,987.8 L1661.1,987.8 L1662.2,987.8 L1663.2,987.8 L1664.2,987.8 L1665.2,987.8 L1666.2,987.8 L1667.2,987.8 L1668.2,987.8 L1669.2,987.8 L1670.2,987.8 L1671.2,987.8 L1672.2,987.8 L1673.2,987.8 L1674.2,987.8 L1675.2,987.8 L1676.2,987.8 L1677.2,987.8 L1678.2,987.8 L1679.3,987.8 L1680.3,987.9 L1681.3,987.9 L1682.3,987.9 L1683.3,987.9 L1684.3,987.9 L1685.3,987.9 L1686.3,987.9 L1687.3,987.9 L1688.3,987.9 L1689.3,987.9 L1690.3,987.9 L1691.3,987.9 L1692.3,987.9 L1693.3,987.9 L1694.3,987.9 L1695.3,987.9 L1696.4,987.9 L1697.4,987.9 L1698.4,987.9 L1699.4,987.9 L1700.4,987.9 L1701.4,987.9 L1702.4,987.9 L1703.4,987.9 L1704.4,987.9 L1705.4,987.9 L1706.4,987.9 L1707.4,987.9 L1708.4,987.9 L1709.4,987.9 L1710.4,987.9 L1711.4,987.9 L1712.4,987.9 L1713.5,987.9 L1714.5,987.9 L1715.5,987.9 L1716.5,987.9 L1717.5,987.9 L1718.5,987.9 L1719.5,987.9 L1720.5,987.9 L1721.5,987.9 L1722.5,987.9 L1723.5,987.9 L1724.5,987.9 L1725.5,987.9 L1726.5,988.0 L1727.5,988.0 L1728.5,988.0 L1729.5,988.0 L1730.6,988.0 L1731.6,988.0 L1732.6,988.0 L1733.6,988.0 L1734.6,988.0 L1735.6,988.0 L1736.6,988.0 L1737.6,988.0 L1738.6,988.0 L1739.6,988.0 L1740.6,988.0 L1741.6,988.0 L1742.6,988.0 L1743.6,988.0 L1744.6,988.0 L1745.6,988.0 L1746.7,988.0 L1747.7,988.0 L1748.7,988.0 L1749.7,988.0 L1750.7,988.0 L1751.7,988.0 L1752.7,988.0 L1753.7,988.0 L1754.7,988.0 L1755.7,988.0 L1756.7,988.0 L1757.7,988.0 L1758.7,988.0 L1759.7,988.0 L1760.7,988.0 L1761.7,988.0 L1762.7,988.0 L1763.8,988.0 L1764.8,988.0 L1765.8,988.0 L1766.8,988.0 L1767.8,988.0 L1768.8,988.0 L1769.8,988.0 L1770.8,988.0 L1771.8,988.0 L1772.8,988.0 L1773.8,988.0 L1774.8,988.0 L1775.8,988.0 L1776.8,988.0 L1777.8,988.0 L1778.8,988.0 L1779.8,988.0 L1780.9,988.0 L1781.9,988.0 L1782.9,988.0 L1783.9,988.0 L1784.9,988.0 L1785.9,988.0 L1786.9,988.0 L1787.9,988.0 L1788.9,988.0 L1789.9,988.0 L1790.9,988.0 L1791.9,988.0 L1792.9,988.0 L1793.9,988.0 L1794.9,988.0 L1795.9,988.0 L1796.9,988.0 L1798.0,988.0 L1799.0,988.0 L1800.0,988.0 L1801.0,988.0 L1802.0,988.0 L1803.0,988.0 L1804.0,988.0 L1805.0,988.0 L1806.0,988.0 L1807.0,988.0 L1808.0,988.0 L1809.0,988.0 L1810.0,988.0 L1811.0,988.0 L1812.0,988.0 L1813.0,988.0 L1814.0,988.0 L1815.1,988.0 L1816.1,988.0 L1817.1,988.0 L1818.1,988.0 L1819.1,988.0 L1820.1,988.0 L1821.1,988.0 L1822.1,988.0 L1823.1,988.0 L1824.1,988.0 L1825.1,988.0 L1826.1,988.0 L1827.1,988.0 L1828.1,988.0 L1829.1,988.0 L1830.1,988.0 L1831.1,988.0 L1832.2,988.0 L1833.2,988.0 L1834.2,988.0" stroke="#00f" stroke-width="8.2" stroke-linecap="butt"/>
</g>
<line x1="337" y1="116" x2="544" y2="116" stroke="#000" stroke-width="8.4"/>
<rect x="337.6" y="170.4" width="204.9" height="61" fill="none" stroke="#ff80ff" stroke-width="4.9"/>
<line x1="337" y1="285" x2="544" y2="285" stroke="#00f" stroke-width="8"/>
<g font-family="'Liberation Serif', 'Times New Roman', serif" font-size="69.5" fill="#000" stroke="#000" stroke-width="1.1" stroke-linejoin="round">
<text y="133.0"><tspan x="558.38" textLength="240.43" lengthAdjust="spacingAndGlyphs">nominal</tspan> <tspan x="822.68" textLength="153.67" lengthAdjust="spacingAndGlyphs">value</tspan></text>
<text y="217.7"><tspan x="560.08" textLength="262.67" lengthAdjust="spacingAndGlyphs">histgram</tspan></text>
<text y="301.2"><tspan x="559.54" textLength="178.32" lengthAdjust="spacingAndGlyphs">kernel</tspan> <tspan x="760.34" textLength="213.03" lengthAdjust="spacingAndGlyphs">density</tspan> <tspan x="996.64" textLength="313.36" lengthAdjust="spacingAndGlyphs">estimation</tspan></text>
</g>
<rect x="1268.6" y="383.2" width="586.1" height="348.1" fill="#fff"/>
<g stroke="#262626" stroke-width="4.17" fill="none">
<rect x="1268.6" y="383.2" width="586.1" height="348.1"/>
<path d="M1561.7,731.3 v-8.2 M1561.7,383.2 v8.2 M1268.6,615.3 h8.2 M1854.7,615.3 h-8.2 M1268.6,499.2 h8.2 M1854.7,499.2 h-8.2"/>
</g>
<g font-family="'Liberation Sans', Arial, sans-serif" font-size="55.8" fill="#262626" stroke="#262626" stroke-width="0.6" stroke-linejoin="round">
<g text-anchor="end">
<text x="1255.2" y="750.5" textLength="136.5" lengthAdjust="spacingAndGlyphs">0.048</text>
<text x="1255.2" y="634.5" textLength="136.5" lengthAdjust="spacingAndGlyphs">0.049</text>
<text x="1255.2" y="518.4" textLength="136.5" lengthAdjust="spacingAndGlyphs">0.050</text>
<text x="1255.2" y="402.4" textLength="136.5" lengthAdjust="spacingAndGlyphs">0.051</text>
</g><g text-anchor="middle">
<text x="1266.8" y="797.3" textLength="30.3" lengthAdjust="spacingAndGlyphs">4</text>
<text x="1559.9" y="797.3" textLength="30.3" lengthAdjust="spacingAndGlyphs">5</text>
<text x="1852.9" y="797.3" textLength="30.3" lengthAdjust="spacingAndGlyphs">6</text>
</g></g>
<g fill="none" stroke-linejoin="round">
<path clip-path="url(#ci)" d="M1268.6,684.8 L1271.5,681.7 L1274.5,678.5 L1277.4,675.4 L1280.3,672.2 L1283.3,669.1 L1286.2,666.1 L1289.1,663.0 L1292.0,660.0 L1295.0,657.0 L1297.9,654.0 L1300.8,651.1 L1303.8,648.2 L1306.7,645.3 L1309.6,642.4 L1312.6,639.5 L1315.5,636.7 L1318.4,633.9 L1321.3,631.2 L1324.3,628.4 L1327.2,625.7 L1330.1,623.1 L1333.1,620.4 L1336.0,617.8 L1338.9,615.2 L1341.9,612.6 L1344.8,610.1 L1347.7,607.6 L1350.7,605.1 L1353.6,602.7 L1356.5,600.3 L1359.4,597.9 L1362.4,595.5 L1365.3,593.2 L1368.2,590.9 L1371.2,588.7 L1374.1,586.4 L1377.0,584.2 L1380.0,582.1 L1382.9,580.0 L1385.8,577.9 L1388.8,575.8 L1391.7,573.8 L1394.6,571.8 L1397.5,569.8 L1400.5,567.9 L1403.4,566.0 L1406.3,564.1 L1409.3,562.2 L1412.2,560.4 L1415.1,558.7 L1418.1,556.9 L1421.0,555.2 L1423.9,553.6 L1426.8,551.9 L1429.8,550.3 L1432.7,548.8 L1435.6,547.2 L1438.6,545.7 L1441.5,544.3 L1444.4,542.8 L1447.4,541.5 L1450.3,540.1 L1453.2,538.8 L1456.2,537.5 L1459.1,536.2 L1462.0,535.0 L1464.9,533.8 L1467.9,532.7 L1470.8,531.5 L1473.7,530.5 L1476.7,529.4 L1479.6,528.4 L1482.5,527.4 L1485.5,526.5 L1488.4,525.6 L1491.3,524.7 L1494.2,523.9 L1497.2,523.1 L1500.1,522.3 L1503.0,521.6 L1506.0,520.9 L1508.9,520.2 L1511.8,519.6 L1514.8,519.0 L1517.7,518.5 L1520.6,517.9 L1523.6,517.5 L1526.5,517.0 L1529.4,516.6 L1532.3,516.2 L1535.3,515.9 L1538.2,515.6 L1541.1,515.3 L1544.1,515.1 L1547.0,514.9 L1549.9,514.8 L1552.9,514.6 L1555.8,514.6 L1558.7,514.5 L1561.7,514.5 L1564.6,514.5 L1567.5,514.6 L1570.4,514.7 L1573.4,514.8 L1576.3,515.0 L1579.2,515.2 L1582.2,515.4 L1585.1,515.7 L1588.0,516.0 L1591.0,516.3 L1593.9,516.7 L1596.8,517.1 L1599.7,517.6 L1602.7,518.1 L1605.6,518.6 L1608.5,519.2 L1611.5,519.8 L1614.4,520.4 L1617.3,521.1 L1620.3,521.8 L1623.2,522.5 L1626.1,523.3 L1629.1,524.1 L1632.0,525.0 L1634.9,525.8 L1637.8,526.8 L1640.8,527.7 L1643.7,528.7 L1646.6,529.7 L1649.6,530.8 L1652.5,531.9 L1655.4,533.0 L1658.4,534.2 L1661.3,535.4 L1664.2,536.7 L1667.1,537.9 L1670.1,539.3 L1673.0,540.6 L1675.9,542.0 L1678.9,543.4 L1681.8,544.9 L1684.7,546.4 L1687.7,547.9 L1690.6,549.5 L1693.5,551.1 L1696.5,552.7 L1699.4,554.4 L1702.3,556.1 L1705.2,557.8 L1708.2,559.6 L1711.1,561.4 L1714.0,563.3 L1717.0,565.1 L1719.9,567.1 L1722.8,569.0 L1725.8,571.0 L1728.7,573.0 L1731.6,575.1 L1734.5,577.2 L1737.5,579.3 L1740.4,581.5 L1743.3,583.7 L1746.3,585.9 L1749.2,588.2 L1752.1,590.5 L1755.1,592.8 L1758.0,595.2 L1760.9,597.6 L1763.9,600.0 L1766.8,602.5 L1769.7,605.0 L1772.6,607.6 L1775.6,610.1 L1778.5,612.7 L1781.4,615.4 L1784.4,618.1 L1787.3,620.8 L1790.2,623.5 L1793.2,626.3 L1796.1,629.2 L1799.0,632.0 L1802.0,634.9 L1804.9,637.8 L1807.8,640.8 L1810.7,643.8 L1813.7,646.8 L1816.6,649.8 L1819.5,652.9 L1822.5,656.0 L1825.4,659.2 L1828.3,662.4 L1831.3,665.6 L1834.2,668.9 L1837.1,672.2 L1840.0,675.5 L1843.0,678.8 L1845.9,682.2 L1848.8,685.7 L1851.8,689.1 L1854.7,692.6" stroke="#000" stroke-width="12.5"/>
<g clip-path="url(#cih)">
<path d="M1258.6,733.9 V633.8H1290.4 V666.4H1314.0 V591.4H1337.6 V657.8H1361.2 V505.8H1384.8 V582.8H1408.5 V543.0H1432.1 V519.3H1455.7 V500.7H1479.3 V535.9H1502.9 V559.6H1526.6 V467.7H1550.2 V499.7H1573.8 V564.4H1597.4 V474.1H1621.0 V507.7H1644.6 V527.0H1668.3 V596.8H1691.9 V523.1H1715.5 V603.8H1739.1 V614.1H1762.7 V628.8H1786.4 V571.8H1810.0 V647.1H1833.6 V733.9 M1290.4,666.4V733.9 M1314.0,666.4V733.9 M1337.6,657.8V733.9 M1361.2,657.8V733.9 M1384.8,582.8V733.9 M1408.5,582.8V733.9 M1432.1,543.0V733.9 M1455.7,519.3V733.9 M1479.3,535.9V733.9 M1502.9,559.6V733.9 M1526.6,559.6V733.9 M1550.2,499.7V733.9 M1573.8,564.4V733.9 M1597.4,564.4V733.9 M1621.0,507.7V733.9 M1644.6,527.0V733.9 M1668.3,596.8V733.9 M1691.9,596.8V733.9 M1715.5,603.8V733.9 M1739.1,614.1V733.9 M1762.7,628.8V733.9 M1786.4,628.8V733.9 M1810.0,647.1V733.9" stroke="#f0f" stroke-opacity="0.5" stroke-width="4.17" stroke-linejoin="miter" fill="none"/>
<path d="M1288.3,664.3h4.17v4.17h-4.17z M1311.9,664.3h4.17v4.17h-4.17z M1335.5,655.7h4.17v4.17h-4.17z M1359.1,655.7h4.17v4.17h-4.17z M1382.8,580.7h4.17v4.17h-4.17z M1406.4,580.7h4.17v4.17h-4.17z M1430.0,540.9h4.17v4.17h-4.17z M1453.6,517.2h4.17v4.17h-4.17z M1477.2,533.8h4.17v4.17h-4.17z M1500.8,557.5h4.17v4.17h-4.17z M1524.5,557.5h4.17v4.17h-4.17z M1548.1,497.6h4.17v4.17h-4.17z M1571.7,562.3h4.17v4.17h-4.17z M1595.3,562.3h4.17v4.17h-4.17z M1618.9,505.6h4.17v4.17h-4.17z M1642.6,524.9h4.17v4.17h-4.17z M1666.2,594.7h4.17v4.17h-4.17z M1689.8,594.7h4.17v4.17h-4.17z M1713.4,601.7h4.17v4.17h-4.17z M1737.0,612.0h4.17v4.17h-4.17z M1760.7,626.7h4.17v4.17h-4.17z M1784.3,626.7h4.17v4.17h-4.17z M1807.9,645.0h4.17v4.17h-4.17z" fill="#f0f" fill-opacity="0.5" stroke="none"/>
</g>
<path clip-path="url(#ci)" d="M1268.1,684.6 L1273.0,679.8 L1278.0,674.9 L1282.9,669.9 L1287.8,664.9 L1292.7,659.9 L1297.7,654.8 L1302.6,649.8 L1307.5,644.7 L1312.4,639.6 L1317.4,634.6 L1322.3,629.6 L1327.2,624.6 L1332.1,619.7 L1337.1,614.9 L1342.0,610.1 L1346.9,605.4 L1351.8,600.8 L1356.8,596.3 L1361.7,592.0 L1366.6,587.7 L1371.5,583.6 L1376.5,579.7 L1381.4,575.9 L1386.3,572.3 L1391.2,568.8 L1396.2,565.5 L1401.1,562.4 L1406.0,559.4 L1410.9,556.6 L1415.9,553.9 L1420.8,551.4 L1425.7,548.9 L1430.6,546.6 L1435.6,544.4 L1440.5,542.3 L1445.4,540.3 L1450.3,538.4 L1455.3,536.5 L1460.2,534.7 L1465.1,533.0 L1470.0,531.4 L1475.0,529.9 L1479.9,528.4 L1484.8,527.0 L1489.7,525.7 L1494.7,524.5 L1499.6,523.4 L1504.5,522.3 L1509.4,521.3 L1514.4,520.5 L1519.3,519.7 L1524.2,519.0 L1529.1,518.4 L1534.1,517.9 L1539.0,517.5 L1543.9,517.2 L1548.8,516.9 L1553.8,516.8 L1558.7,516.8 L1563.6,516.9 L1568.5,517.1 L1573.5,517.4 L1578.4,517.8 L1583.3,518.3 L1588.2,519.0 L1593.2,519.7 L1598.1,520.6 L1603.0,521.5 L1607.9,522.6 L1612.9,523.8 L1617.8,525.1 L1622.7,526.5 L1627.6,528.1 L1632.6,529.7 L1637.5,531.5 L1642.4,533.4 L1647.3,535.5 L1652.3,537.6 L1657.2,539.9 L1662.1,542.3 L1667.0,544.9 L1672.0,547.5 L1676.9,550.3 L1681.8,553.3 L1686.7,556.3 L1691.7,559.6 L1696.6,562.9 L1701.5,566.4 L1706.4,569.9 L1711.4,573.6 L1716.3,577.5 L1721.2,581.4 L1726.1,585.4 L1731.1,589.5 L1736.0,593.7 L1740.9,597.9 L1745.8,602.2 L1750.8,606.6 L1755.7,611.1 L1760.6,615.7 L1765.5,620.3 L1770.5,625.0 L1775.4,629.8 L1780.3,634.7 L1785.2,639.7 L1790.2,644.8 L1795.1,650.0 L1800.0,655.4 L1804.9,660.9 L1809.9,666.5 L1814.8,672.3 L1819.7,678.3 L1824.6,684.4 L1829.6,690.8 L1834.5,697.3 L1839.4,704.0 L1844.3,711.0 L1849.3,718.1 L1854.2,725.5" stroke="#00f" stroke-width="8.4"/>
</g>
<ellipse cx="1096.1" cy="860" rx="96.8" ry="57.7" fill="none" stroke="#000" stroke-width="4.2"/>
<line x1="1154.6" y1="836.3" x2="1182.9" y2="817.1" stroke="#000" stroke-width="4.2"/>
<path d="M1221.8,790.8 L1150.9,807.3 L1182.9,817.1 L1180.0,850.4 Z" fill="#000" stroke="#000" stroke-width="3.6" stroke-linejoin="round"/>
<g font-family="'Liberation Serif', 'Times New Roman', serif" fill="#262626">
<text transform="translate(82.45,605.58) rotate(-90) scale(1.3322,0.9749)" font-size="84" font-style="italic">f</text>
<text transform="translate(96.42,565.42) rotate(-90) scale(1.1165,1.0304)" font-size="59" font-style="italic">x</text>
<text transform="translate(84.22,526.33) rotate(-90) scale(0.9284,1.0825)" font-size="84">(</text>
<text transform="translate(84.39,495.76) rotate(-90) scale(1.0900,0.9798)" font-size="84" font-style="italic">x</text>
<text transform="translate(84.18,450.33) rotate(-90) scale(0.9125,1.0812)" font-size="84">)</text>
<text transform="translate(1065.07,1169.31) scale(1.0914,0.9541)" font-size="84" font-style="italic">x</text>
</g>
</svg>
</body>
</html>
